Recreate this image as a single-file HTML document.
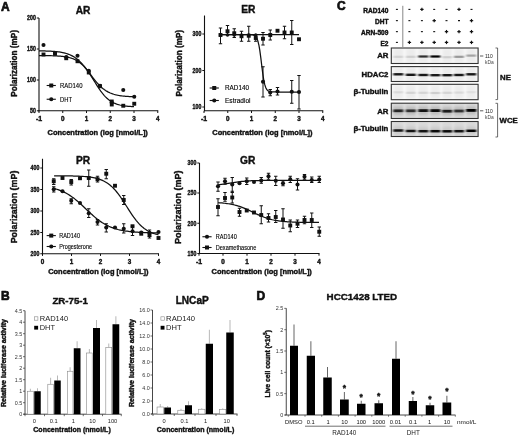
<!DOCTYPE html>
<html><head><meta charset="utf-8"><title>Figure</title>
<style>html,body{margin:0;padding:0;background:#fff}svg{display:block}text{font-family:"Liberation Sans",Arial,sans-serif}</style>
</head><body>
<svg width="520" height="436" viewBox="0 0 520 436">
<rect width="520" height="436" fill="#fff"/>
<text x="1.00" y="11.00" font-size="12" font-weight="bold" text-anchor="start" fill="#111" stroke="#111" stroke-width="0.7" stroke-linejoin="round" >A</text>
<text x="1.00" y="299.60" font-size="12" font-weight="bold" text-anchor="start" fill="#111" stroke="#111" stroke-width="0.7" stroke-linejoin="round" >B</text>
<text x="337.00" y="10.30" font-size="12" font-weight="bold" text-anchor="start" fill="#111" stroke="#111" stroke-width="0.7" stroke-linejoin="round" >C</text>
<text x="256.50" y="300.00" font-size="12" font-weight="bold" text-anchor="start" fill="#111" stroke="#111" stroke-width="0.7" stroke-linejoin="round" >D</text>
<line x1="39.00" y1="18.00" x2="39.00" y2="111.30" stroke="#111" stroke-width="1.1" />
<line x1="38.50" y1="110.80" x2="158.25" y2="110.80" stroke="#111" stroke-width="1.1" />
<line x1="39.00" y1="110.80" x2="39.00" y2="113.00" stroke="#111" stroke-width="1" />
<text x="39.00" y="121.10" font-size="6.3" font-weight="bold" text-anchor="middle" fill="#111" textLength="6.20" lengthAdjust="spacingAndGlyphs" stroke="#111" stroke-width="0.4" stroke-linejoin="round" >-1</text>
<line x1="62.75" y1="110.80" x2="62.75" y2="113.00" stroke="#111" stroke-width="1" />
<text x="62.75" y="121.10" font-size="6.3" font-weight="bold" text-anchor="middle" fill="#111" stroke="#111" stroke-width="0.4" stroke-linejoin="round" >0</text>
<line x1="86.50" y1="110.80" x2="86.50" y2="113.00" stroke="#111" stroke-width="1" />
<text x="86.50" y="121.10" font-size="6.3" font-weight="bold" text-anchor="middle" fill="#111" stroke="#111" stroke-width="0.4" stroke-linejoin="round" >1</text>
<line x1="110.25" y1="110.80" x2="110.25" y2="113.00" stroke="#111" stroke-width="1" />
<text x="110.25" y="121.10" font-size="6.3" font-weight="bold" text-anchor="middle" fill="#111" stroke="#111" stroke-width="0.4" stroke-linejoin="round" >2</text>
<line x1="134.00" y1="110.80" x2="134.00" y2="113.00" stroke="#111" stroke-width="1" />
<text x="134.00" y="121.10" font-size="6.3" font-weight="bold" text-anchor="middle" fill="#111" stroke="#111" stroke-width="0.4" stroke-linejoin="round" >3</text>
<line x1="157.75" y1="110.80" x2="157.75" y2="113.00" stroke="#111" stroke-width="1" />
<text x="157.75" y="121.10" font-size="6.3" font-weight="bold" text-anchor="middle" fill="#111" stroke="#111" stroke-width="0.4" stroke-linejoin="round" >4</text>
<line x1="36.80" y1="18.00" x2="39.00" y2="18.00" stroke="#111" stroke-width="1" />
<text x="35.80" y="20.40" font-size="6.8" font-weight="bold" text-anchor="end" fill="#111" textLength="8.70" lengthAdjust="spacingAndGlyphs" stroke="#111" stroke-width="0.4" stroke-linejoin="round" >200</text>
<line x1="36.80" y1="49.00" x2="39.00" y2="49.00" stroke="#111" stroke-width="1" />
<text x="35.80" y="51.40" font-size="6.8" font-weight="bold" text-anchor="end" fill="#111" textLength="8.70" lengthAdjust="spacingAndGlyphs" stroke="#111" stroke-width="0.4" stroke-linejoin="round" >150</text>
<line x1="36.80" y1="80.00" x2="39.00" y2="80.00" stroke="#111" stroke-width="1" />
<text x="35.80" y="82.40" font-size="6.8" font-weight="bold" text-anchor="end" fill="#111" textLength="8.70" lengthAdjust="spacingAndGlyphs" stroke="#111" stroke-width="0.4" stroke-linejoin="round" >100</text>
<line x1="36.80" y1="110.80" x2="39.00" y2="110.80" stroke="#111" stroke-width="1" />
<text x="35.80" y="113.20" font-size="6.8" font-weight="bold" text-anchor="end" fill="#111" textLength="5.80" lengthAdjust="spacingAndGlyphs" stroke="#111" stroke-width="0.4" stroke-linejoin="round" >50</text>
<text x="83.00" y="14.30" font-size="10.2" font-weight="bold" text-anchor="middle" fill="#111" stroke="#111" stroke-width="0.4" stroke-linejoin="round" >AR</text>
<text x="17.20" y="63.40" font-size="8.9" font-weight="bold" text-anchor="middle" fill="#111" textLength="66.50" lengthAdjust="spacingAndGlyphs" stroke="#111" stroke-width="0.4" stroke-linejoin="round" transform="rotate(-90 17.20 63.40)" >Polarization (mP)</text>
<text x="97.70" y="134.70" font-size="7.6" font-weight="bold" text-anchor="middle" fill="#111" textLength="100.30" lengthAdjust="spacingAndGlyphs" stroke="#111" stroke-width="0.4" stroke-linejoin="round" >Concentration (log [nmol/L])</text>
<polyline points="39.00,55.55 40.19,55.56 41.38,55.56 42.56,55.58 43.75,55.59 44.94,55.60 46.12,55.62 47.31,55.64 48.50,55.66 49.69,55.68 50.88,55.71 52.06,55.75 53.25,55.79 54.44,55.83 55.62,55.89 56.81,55.95 58.00,56.02 59.19,56.11 60.38,56.20 61.56,56.31 62.75,56.44 63.94,56.59 65.12,56.76 66.31,56.96 67.50,57.19 68.69,57.45 69.88,57.76 71.06,58.10 72.25,58.50 73.44,58.95 74.62,59.46 75.81,60.05 77.00,60.71 78.19,61.45 79.38,62.28 80.56,63.21 81.75,64.25 82.94,65.39 84.12,66.64 85.31,68.00 86.50,69.47 87.69,71.05 88.88,72.72 90.06,74.48 91.25,76.30 92.44,78.18 93.62,80.09 94.81,82.02 96.00,83.94 97.19,85.83 98.38,87.66 99.56,89.44 100.75,91.12 101.94,92.72 103.12,94.21 104.31,95.60 105.50,96.87 106.69,98.03 107.88,99.09 109.06,100.04 110.25,100.89 111.44,101.65 112.62,102.33 113.81,102.93 115.00,103.45 116.19,103.92 117.38,104.32 118.56,104.68 119.75,104.99 120.94,105.26 122.12,105.49 123.31,105.70 124.50,105.87 125.69,106.03 126.88,106.16 128.06,106.28 129.25,106.38 130.44,106.46 131.62,106.54 132.81,106.60 134.00,106.65" fill="none" stroke="#111" stroke-width="1.25"/>
<polyline points="39.00,50.87 40.19,50.89 41.38,50.91 42.56,50.93 43.75,50.96 44.94,50.99 46.12,51.03 47.31,51.07 48.50,51.11 49.69,51.17 50.88,51.23 52.06,51.30 53.25,51.38 54.44,51.47 55.62,51.58 56.81,51.70 58.00,51.83 59.19,51.99 60.38,52.17 61.56,52.37 62.75,52.60 63.94,52.86 65.12,53.16 66.31,53.49 67.50,53.87 68.69,54.30 69.88,54.78 71.06,55.32 72.25,55.92 73.44,56.59 74.62,57.33 75.81,58.15 77.00,59.05 78.19,60.04 79.38,61.10 80.56,62.26 81.75,63.49 82.94,64.80 84.12,66.19 85.31,67.64 86.50,69.15 87.69,70.70 88.88,72.28 90.06,73.88 91.25,75.47 92.44,77.05 93.62,78.60 94.81,80.11 96.00,81.56 97.19,82.95 98.38,84.26 99.56,85.49 100.75,86.65 101.94,87.71 103.12,88.70 104.31,89.60 105.50,90.42 106.69,91.16 107.88,91.83 109.06,92.43 110.25,92.97 111.44,93.45 112.62,93.88 113.81,94.26 115.00,94.59 116.19,94.89 117.38,95.15 118.56,95.38 119.75,95.58 120.94,95.76 122.12,95.92 123.31,96.05 124.50,96.17 125.69,96.28 126.88,96.37 128.06,96.45 129.25,96.52 130.44,96.58 131.62,96.64 132.81,96.68 134.00,96.72" fill="none" stroke="#111" stroke-width="1.25"/>
<rect x="41.55" y="52.55" width="3.90" height="3.90" fill="#111" />
<rect x="53.05" y="51.80" width="3.90" height="3.90" fill="#111" />
<rect x="64.30" y="56.30" width="3.90" height="3.90" fill="#111" />
<rect x="75.55" y="59.30" width="3.90" height="3.90" fill="#111" />
<rect x="86.80" y="70.55" width="3.90" height="3.90" fill="#111" />
<rect x="98.05" y="84.30" width="3.90" height="3.90" fill="#111" />
<rect x="109.80" y="102.55" width="3.90" height="3.90" fill="#111" />
<rect x="121.30" y="103.80" width="3.90" height="3.90" fill="#111" />
<rect x="132.30" y="101.80" width="3.90" height="3.90" fill="#111" />
<rect x="109.80" y="99.55" width="3.90" height="3.90" fill="#111" />
<circle cx="43.50" cy="45.00" r="2.05" fill="#111"/>
<circle cx="55.00" cy="53.00" r="2.05" fill="#111"/>
<circle cx="66.25" cy="57.00" r="2.05" fill="#111"/>
<circle cx="77.50" cy="55.75" r="2.05" fill="#111"/>
<circle cx="88.75" cy="70.75" r="2.05" fill="#111"/>
<circle cx="100.00" cy="85.75" r="2.05" fill="#111"/>
<circle cx="111.75" cy="102.50" r="2.05" fill="#111"/>
<circle cx="123.25" cy="90.00" r="2.05" fill="#111"/>
<circle cx="134.25" cy="96.75" r="2.05" fill="#111"/>
<line x1="46.65" y1="85.50" x2="55.85" y2="85.50" stroke="#111" stroke-width="1.1" />
<rect x="49.25" y="83.50" width="4.00" height="4.00" fill="#111" />
<text x="60.00" y="87.90" font-size="6.8"  text-anchor="start" fill="#000" textLength="22.50" lengthAdjust="spacingAndGlyphs" stroke="#000" stroke-width="0.12">RAD140</text>
<line x1="46.65" y1="99.25" x2="55.85" y2="99.25" stroke="#111" stroke-width="1.1" />
<circle cx="51.25" cy="99.25" r="2.05" fill="#111"/>
<text x="60.00" y="101.65" font-size="6.8"  text-anchor="start" fill="#000" textLength="12.00" lengthAdjust="spacingAndGlyphs" stroke="#000" stroke-width="0.12">DHT</text>
<line x1="204.50" y1="15.50" x2="204.50" y2="111.30" stroke="#111" stroke-width="1.1" />
<line x1="204.00" y1="110.80" x2="323.25" y2="110.80" stroke="#111" stroke-width="1.1" />
<line x1="204.00" y1="110.80" x2="204.00" y2="113.00" stroke="#111" stroke-width="1" />
<text x="204.00" y="121.10" font-size="6.3" font-weight="bold" text-anchor="middle" fill="#111" textLength="6.20" lengthAdjust="spacingAndGlyphs" stroke="#111" stroke-width="0.4" stroke-linejoin="round" >-1</text>
<line x1="227.75" y1="110.80" x2="227.75" y2="113.00" stroke="#111" stroke-width="1" />
<text x="227.75" y="121.10" font-size="6.3" font-weight="bold" text-anchor="middle" fill="#111" stroke="#111" stroke-width="0.4" stroke-linejoin="round" >0</text>
<line x1="251.50" y1="110.80" x2="251.50" y2="113.00" stroke="#111" stroke-width="1" />
<text x="251.50" y="121.10" font-size="6.3" font-weight="bold" text-anchor="middle" fill="#111" stroke="#111" stroke-width="0.4" stroke-linejoin="round" >1</text>
<line x1="275.25" y1="110.80" x2="275.25" y2="113.00" stroke="#111" stroke-width="1" />
<text x="275.25" y="121.10" font-size="6.3" font-weight="bold" text-anchor="middle" fill="#111" stroke="#111" stroke-width="0.4" stroke-linejoin="round" >2</text>
<line x1="299.00" y1="110.80" x2="299.00" y2="113.00" stroke="#111" stroke-width="1" />
<text x="299.00" y="121.10" font-size="6.3" font-weight="bold" text-anchor="middle" fill="#111" stroke="#111" stroke-width="0.4" stroke-linejoin="round" >3</text>
<line x1="322.75" y1="110.80" x2="322.75" y2="113.00" stroke="#111" stroke-width="1" />
<text x="322.75" y="121.10" font-size="6.3" font-weight="bold" text-anchor="middle" fill="#111" stroke="#111" stroke-width="0.4" stroke-linejoin="round" >4</text>
<line x1="202.30" y1="34.00" x2="204.50" y2="34.00" stroke="#111" stroke-width="1" />
<text x="201.30" y="36.40" font-size="6.8" font-weight="bold" text-anchor="end" fill="#111" textLength="8.70" lengthAdjust="spacingAndGlyphs" stroke="#111" stroke-width="0.4" stroke-linejoin="round" >300</text>
<line x1="202.30" y1="70.50" x2="204.50" y2="70.50" stroke="#111" stroke-width="1" />
<text x="201.30" y="72.90" font-size="6.8" font-weight="bold" text-anchor="end" fill="#111" textLength="8.70" lengthAdjust="spacingAndGlyphs" stroke="#111" stroke-width="0.4" stroke-linejoin="round" >200</text>
<line x1="202.30" y1="107.00" x2="204.50" y2="107.00" stroke="#111" stroke-width="1" />
<text x="201.30" y="109.40" font-size="6.8" font-weight="bold" text-anchor="end" fill="#111" textLength="8.70" lengthAdjust="spacingAndGlyphs" stroke="#111" stroke-width="0.4" stroke-linejoin="round" >100</text>
<text x="248.40" y="13.20" font-size="10.2" font-weight="bold" text-anchor="middle" fill="#111" stroke="#111" stroke-width="0.4" stroke-linejoin="round" >ER</text>
<text x="182.20" y="63.20" font-size="8.9" font-weight="bold" text-anchor="middle" fill="#111" textLength="66.50" lengthAdjust="spacingAndGlyphs" stroke="#111" stroke-width="0.4" stroke-linejoin="round" transform="rotate(-90 182.20 63.20)" >Polarization (mP)</text>
<text x="262.40" y="134.70" font-size="7.6" font-weight="bold" text-anchor="middle" fill="#111" textLength="100.30" lengthAdjust="spacingAndGlyphs" stroke="#111" stroke-width="0.4" stroke-linejoin="round" >Concentration (log [nmol/L])</text>
<line x1="220.50" y1="34.60" x2="299.00" y2="34.60" stroke="#111" stroke-width="1.25" />
<polyline points="220.62,34.60 221.60,34.60 222.58,34.60 223.56,34.60 224.54,34.60 225.52,34.60 226.50,34.60 227.48,34.60 228.46,34.60 229.44,34.60 230.42,34.60 231.40,34.60 232.38,34.60 233.36,34.60 234.34,34.60 235.32,34.60 236.30,34.60 237.28,34.60 238.26,34.60 239.24,34.60 240.22,34.60 241.20,34.60 242.18,34.60 243.16,34.60 244.14,34.60 245.12,34.60 246.10,34.61 247.08,34.61 248.06,34.62 249.04,34.64 250.02,34.67 251.00,34.73 251.97,34.83 252.95,35.00 253.93,35.31 254.91,35.84 255.89,36.75 256.87,38.29 257.85,40.82 258.83,44.76 259.81,50.41 260.79,57.67 261.77,65.77 262.75,73.49 263.73,79.83 264.71,84.42 265.69,87.45 266.67,89.33 267.65,90.46 268.63,91.12 269.61,91.50 270.59,91.72 271.57,91.84 272.55,91.91 273.53,91.95 274.51,91.97 275.49,91.98 276.47,91.99 277.45,91.99 278.43,92.00 279.41,92.00 280.39,92.00 281.37,92.00 282.35,92.00 283.32,92.00 284.30,92.00 285.28,92.00 286.26,92.00 287.24,92.00 288.22,92.00 289.20,92.00 290.18,92.00 291.16,92.00 292.14,92.00 293.12,92.00 294.10,92.00 295.08,92.00 296.06,92.00 297.04,92.00 298.02,92.00 299.00,92.00" fill="none" stroke="#111" stroke-width="1.25"/>
<line x1="220.50" y1="28.00" x2="220.50" y2="43.75" stroke="#111" stroke-width="1.0" />
<line x1="218.80" y1="28.00" x2="222.20" y2="28.00" stroke="#111" stroke-width="1.0" />
<line x1="218.80" y1="43.75" x2="222.20" y2="43.75" stroke="#111" stroke-width="1.0" />
<rect x="218.55" y="33.05" width="3.90" height="3.90" fill="#111" />
<line x1="227.50" y1="25.50" x2="227.50" y2="35.00" stroke="#111" stroke-width="1.0" />
<line x1="225.80" y1="25.50" x2="229.20" y2="25.50" stroke="#111" stroke-width="1.0" />
<line x1="225.80" y1="35.00" x2="229.20" y2="35.00" stroke="#111" stroke-width="1.0" />
<rect x="225.55" y="29.30" width="3.90" height="3.90" fill="#111" />
<line x1="234.25" y1="28.75" x2="234.25" y2="37.50" stroke="#111" stroke-width="1.0" />
<line x1="232.55" y1="28.75" x2="235.95" y2="28.75" stroke="#111" stroke-width="1.0" />
<line x1="232.55" y1="37.50" x2="235.95" y2="37.50" stroke="#111" stroke-width="1.0" />
<rect x="232.30" y="31.30" width="3.90" height="3.90" fill="#111" />
<line x1="241.50" y1="31.25" x2="241.50" y2="41.25" stroke="#111" stroke-width="1.0" />
<line x1="239.80" y1="31.25" x2="243.20" y2="31.25" stroke="#111" stroke-width="1.0" />
<line x1="239.80" y1="41.25" x2="243.20" y2="41.25" stroke="#111" stroke-width="1.0" />
<rect x="239.55" y="34.30" width="3.90" height="3.90" fill="#111" />
<line x1="248.75" y1="26.25" x2="248.75" y2="41.25" stroke="#111" stroke-width="1.0" />
<line x1="247.05" y1="26.25" x2="250.45" y2="26.25" stroke="#111" stroke-width="1.0" />
<line x1="247.05" y1="41.25" x2="250.45" y2="41.25" stroke="#111" stroke-width="1.0" />
<rect x="246.80" y="33.80" width="3.90" height="3.90" fill="#111" />
<line x1="255.75" y1="35.00" x2="255.75" y2="41.25" stroke="#111" stroke-width="1.0" />
<line x1="254.05" y1="35.00" x2="257.45" y2="35.00" stroke="#111" stroke-width="1.0" />
<line x1="254.05" y1="41.25" x2="257.45" y2="41.25" stroke="#111" stroke-width="1.0" />
<rect x="253.80" y="36.05" width="3.90" height="3.90" fill="#111" />
<line x1="263.00" y1="32.50" x2="263.00" y2="45.00" stroke="#111" stroke-width="1.0" />
<line x1="261.30" y1="32.50" x2="264.70" y2="32.50" stroke="#111" stroke-width="1.0" />
<line x1="261.30" y1="45.00" x2="264.70" y2="45.00" stroke="#111" stroke-width="1.0" />
<rect x="261.05" y="36.80" width="3.90" height="3.90" fill="#111" />
<line x1="270.25" y1="30.00" x2="270.25" y2="40.00" stroke="#111" stroke-width="1.0" />
<line x1="268.55" y1="30.00" x2="271.95" y2="30.00" stroke="#111" stroke-width="1.0" />
<line x1="268.55" y1="40.00" x2="271.95" y2="40.00" stroke="#111" stroke-width="1.0" />
<rect x="268.30" y="33.05" width="3.90" height="3.90" fill="#111" />
<rect x="275.55" y="28.80" width="3.90" height="3.90" fill="#111" />
<line x1="284.50" y1="26.25" x2="284.50" y2="38.75" stroke="#111" stroke-width="1.0" />
<line x1="282.80" y1="26.25" x2="286.20" y2="26.25" stroke="#111" stroke-width="1.0" />
<line x1="282.80" y1="38.75" x2="286.20" y2="38.75" stroke="#111" stroke-width="1.0" />
<rect x="282.55" y="30.55" width="3.90" height="3.90" fill="#111" />
<line x1="291.75" y1="20.50" x2="291.75" y2="44.50" stroke="#111" stroke-width="1.0" />
<line x1="290.05" y1="20.50" x2="293.45" y2="20.50" stroke="#111" stroke-width="1.0" />
<line x1="290.05" y1="44.50" x2="293.45" y2="44.50" stroke="#111" stroke-width="1.0" />
<rect x="289.80" y="30.55" width="3.90" height="3.90" fill="#111" />
<rect x="297.05" y="37.30" width="3.90" height="3.90" fill="#111" />
<circle cx="220.50" cy="35.00" r="1.7" fill="#111"/>
<circle cx="227.50" cy="35.00" r="1.7" fill="#111"/>
<circle cx="234.25" cy="35.00" r="1.7" fill="#111"/>
<circle cx="241.50" cy="35.00" r="1.7" fill="#111"/>
<circle cx="248.75" cy="35.00" r="1.7" fill="#111"/>
<circle cx="255.75" cy="35.00" r="1.7" fill="#111"/>
<line x1="263.00" y1="66.75" x2="263.00" y2="97.00" stroke="#111" stroke-width="1.0" />
<line x1="261.30" y1="66.75" x2="264.70" y2="66.75" stroke="#111" stroke-width="1.0" />
<line x1="261.30" y1="97.00" x2="264.70" y2="97.00" stroke="#111" stroke-width="1.0" />
<circle cx="263.00" cy="81.75" r="2.05" fill="#111"/>
<line x1="270.25" y1="89.50" x2="270.25" y2="95.75" stroke="#111" stroke-width="1.0" />
<line x1="268.55" y1="89.50" x2="271.95" y2="89.50" stroke="#111" stroke-width="1.0" />
<line x1="268.55" y1="95.75" x2="271.95" y2="95.75" stroke="#111" stroke-width="1.0" />
<circle cx="270.25" cy="92.50" r="2.05" fill="#111"/>
<line x1="277.50" y1="87.50" x2="277.50" y2="95.00" stroke="#111" stroke-width="1.0" />
<line x1="275.80" y1="87.50" x2="279.20" y2="87.50" stroke="#111" stroke-width="1.0" />
<line x1="275.80" y1="95.00" x2="279.20" y2="95.00" stroke="#111" stroke-width="1.0" />
<circle cx="277.50" cy="91.50" r="2.05" fill="#111"/>
<line x1="291.75" y1="80.50" x2="291.75" y2="103.25" stroke="#111" stroke-width="1.0" />
<line x1="290.05" y1="80.50" x2="293.45" y2="80.50" stroke="#111" stroke-width="1.0" />
<line x1="290.05" y1="103.25" x2="293.45" y2="103.25" stroke="#111" stroke-width="1.0" />
<circle cx="291.75" cy="91.75" r="2.05" fill="#111"/>
<line x1="299.00" y1="75.50" x2="299.00" y2="109.00" stroke="#111" stroke-width="1.0" />
<line x1="297.30" y1="75.50" x2="300.70" y2="75.50" stroke="#111" stroke-width="1.0" />
<line x1="297.30" y1="109.00" x2="300.70" y2="109.00" stroke="#111" stroke-width="1.0" />
<circle cx="299.00" cy="92.00" r="2.05" fill="#111"/>
<line x1="209.65" y1="88.00" x2="218.85" y2="88.00" stroke="#111" stroke-width="1.1" />
<rect x="212.25" y="86.00" width="4.00" height="4.00" fill="#111" />
<text x="225.00" y="90.40" font-size="6.8"  text-anchor="start" fill="#000" textLength="24.00" lengthAdjust="spacingAndGlyphs" stroke="#000" stroke-width="0.12">RAD140</text>
<line x1="209.65" y1="100.50" x2="218.85" y2="100.50" stroke="#111" stroke-width="1.1" />
<circle cx="214.25" cy="100.50" r="2.05" fill="#111"/>
<text x="225.00" y="102.90" font-size="6.8"  text-anchor="start" fill="#000" textLength="25.50" lengthAdjust="spacingAndGlyphs" stroke="#000" stroke-width="0.12">Estradiol</text>
<line x1="42.50" y1="158.75" x2="42.50" y2="254.25" stroke="#111" stroke-width="1.1" />
<line x1="42.00" y1="253.75" x2="159.00" y2="253.75" stroke="#111" stroke-width="1.1" />
<line x1="42.50" y1="253.75" x2="42.50" y2="255.95" stroke="#111" stroke-width="1" />
<text x="42.50" y="264.05" font-size="6.3" font-weight="bold" text-anchor="middle" fill="#111" stroke="#111" stroke-width="0.4" stroke-linejoin="round" >0</text>
<line x1="71.50" y1="253.75" x2="71.50" y2="255.95" stroke="#111" stroke-width="1" />
<text x="71.50" y="264.05" font-size="6.3" font-weight="bold" text-anchor="middle" fill="#111" stroke="#111" stroke-width="0.4" stroke-linejoin="round" >1</text>
<line x1="100.50" y1="253.75" x2="100.50" y2="255.95" stroke="#111" stroke-width="1" />
<text x="100.50" y="264.05" font-size="6.3" font-weight="bold" text-anchor="middle" fill="#111" stroke="#111" stroke-width="0.4" stroke-linejoin="round" >2</text>
<line x1="129.50" y1="253.75" x2="129.50" y2="255.95" stroke="#111" stroke-width="1" />
<text x="129.50" y="264.05" font-size="6.3" font-weight="bold" text-anchor="middle" fill="#111" stroke="#111" stroke-width="0.4" stroke-linejoin="round" >3</text>
<line x1="158.50" y1="253.75" x2="158.50" y2="255.95" stroke="#111" stroke-width="1" />
<text x="158.50" y="264.05" font-size="6.3" font-weight="bold" text-anchor="middle" fill="#111" stroke="#111" stroke-width="0.4" stroke-linejoin="round" >4</text>
<line x1="40.30" y1="168.00" x2="42.50" y2="168.00" stroke="#111" stroke-width="1" />
<text x="39.30" y="170.40" font-size="6.8" font-weight="bold" text-anchor="end" fill="#111" textLength="8.70" lengthAdjust="spacingAndGlyphs" stroke="#111" stroke-width="0.4" stroke-linejoin="round" >400</text>
<line x1="40.30" y1="189.50" x2="42.50" y2="189.50" stroke="#111" stroke-width="1" />
<text x="39.30" y="191.90" font-size="6.8" font-weight="bold" text-anchor="end" fill="#111" textLength="8.70" lengthAdjust="spacingAndGlyphs" stroke="#111" stroke-width="0.4" stroke-linejoin="round" >350</text>
<line x1="40.30" y1="211.00" x2="42.50" y2="211.00" stroke="#111" stroke-width="1" />
<text x="39.30" y="213.40" font-size="6.8" font-weight="bold" text-anchor="end" fill="#111" textLength="8.70" lengthAdjust="spacingAndGlyphs" stroke="#111" stroke-width="0.4" stroke-linejoin="round" >300</text>
<line x1="40.30" y1="232.50" x2="42.50" y2="232.50" stroke="#111" stroke-width="1" />
<text x="39.30" y="234.90" font-size="6.8" font-weight="bold" text-anchor="end" fill="#111" textLength="8.70" lengthAdjust="spacingAndGlyphs" stroke="#111" stroke-width="0.4" stroke-linejoin="round" >250</text>
<line x1="40.30" y1="253.75" x2="42.50" y2="253.75" stroke="#111" stroke-width="1" />
<text x="39.30" y="256.15" font-size="6.8" font-weight="bold" text-anchor="end" fill="#111" textLength="8.70" lengthAdjust="spacingAndGlyphs" stroke="#111" stroke-width="0.4" stroke-linejoin="round" >200</text>
<text x="83.00" y="164.00" font-size="10.2" font-weight="bold" text-anchor="middle" fill="#111" stroke="#111" stroke-width="0.4" stroke-linejoin="round" >PR</text>
<text x="17.00" y="207.00" font-size="8.9" font-weight="bold" text-anchor="middle" fill="#111" textLength="72.70" lengthAdjust="spacingAndGlyphs" stroke="#111" stroke-width="0.4" stroke-linejoin="round" transform="rotate(-90 17.00 207.00)" >Polarization (mP)</text>
<text x="98.30" y="273.60" font-size="7.6" font-weight="bold" text-anchor="middle" fill="#111" textLength="100.30" lengthAdjust="spacingAndGlyphs" stroke="#111" stroke-width="0.4" stroke-linejoin="round" >Concentration (log [nmol/L])</text>
<polyline points="54.10,175.78 55.41,175.79 56.71,175.80 58.02,175.80 59.32,175.81 60.62,175.82 61.93,175.83 63.23,175.84 64.54,175.85 65.84,175.87 67.15,175.88 68.45,175.90 69.76,175.92 71.06,175.95 72.37,175.98 73.68,176.01 74.98,176.05 76.28,176.09 77.59,176.14 78.90,176.19 80.20,176.26 81.50,176.33 82.81,176.41 84.12,176.50 85.42,176.61 86.72,176.73 88.03,176.87 89.34,177.03 90.64,177.21 91.94,177.42 93.25,177.65 94.56,177.91 95.86,178.21 97.16,178.55 98.47,178.93 99.78,179.37 101.08,179.85 102.39,180.40 103.69,181.01 105.00,181.70 106.30,182.46 107.61,183.31 108.91,184.25 110.22,185.28 111.52,186.42 112.82,187.66 114.13,189.00 115.44,190.45 116.74,192.01 118.05,193.67 119.35,195.42 120.66,197.26 121.96,199.18 123.27,201.16 124.57,203.18 125.88,205.23 127.18,207.29 128.49,209.34 129.79,211.37 131.09,213.35 132.40,215.28 133.70,217.13 135.01,218.89 136.31,220.56 137.62,222.13 138.93,223.59 140.23,224.95 141.53,226.20 142.84,227.35 144.14,228.39 145.45,229.34 146.75,230.20 148.06,230.97 149.37,231.67 150.67,232.29 151.97,232.84 153.28,233.33 154.58,233.77 155.89,234.16 157.20,234.50 158.50,234.81" fill="none" stroke="#111" stroke-width="1.25"/>
<polyline points="54.10,188.53 55.41,188.89 56.71,189.27 58.02,189.69 59.32,190.15 60.62,190.65 61.93,191.18 63.23,191.76 64.54,192.39 65.84,193.06 67.15,193.78 68.45,194.55 69.76,195.37 71.06,196.23 72.37,197.15 73.68,198.11 74.98,199.12 76.28,200.18 77.59,201.27 78.90,202.40 80.20,203.57 81.50,204.76 82.81,205.98 84.12,207.21 85.42,208.45 86.72,209.69 88.03,210.93 89.34,212.16 90.64,213.37 91.94,214.56 93.25,215.72 94.56,216.85 95.86,217.94 97.16,218.99 98.47,220.00 99.78,220.96 101.08,221.87 102.39,222.73 103.69,223.54 105.00,224.30 106.30,225.02 107.61,225.68 108.91,226.30 110.22,226.88 111.52,227.41 112.82,227.90 114.13,228.35 115.44,228.77 116.74,229.15 118.05,229.51 119.35,229.83 120.66,230.12 121.96,230.39 123.27,230.63 124.57,230.86 125.88,231.06 127.18,231.24 128.49,231.41 129.79,231.56 131.09,231.70 132.40,231.82 133.70,231.94 135.01,232.04 136.31,232.13 137.62,232.22 138.93,232.29 140.23,232.36 141.53,232.42 142.84,232.48 144.14,232.53 145.45,232.58 146.75,232.62 148.06,232.65 149.37,232.69 150.67,232.72 151.97,232.75 153.28,232.77 154.58,232.79 155.89,232.81 157.20,232.83 158.50,232.85" fill="none" stroke="#111" stroke-width="1.25"/>
<line x1="53.75" y1="178.75" x2="53.75" y2="184.50" stroke="#111" stroke-width="1.0" />
<line x1="52.05" y1="178.75" x2="55.45" y2="178.75" stroke="#111" stroke-width="1.0" />
<line x1="52.05" y1="184.50" x2="55.45" y2="184.50" stroke="#111" stroke-width="1.0" />
<rect x="51.80" y="179.30" width="3.90" height="3.90" fill="#111" />
<rect x="60.55" y="176.05" width="3.90" height="3.90" fill="#111" />
<line x1="71.25" y1="179.50" x2="71.25" y2="185.00" stroke="#111" stroke-width="1.0" />
<line x1="69.55" y1="179.50" x2="72.95" y2="179.50" stroke="#111" stroke-width="1.0" />
<line x1="69.55" y1="185.00" x2="72.95" y2="185.00" stroke="#111" stroke-width="1.0" />
<rect x="69.30" y="180.05" width="3.90" height="3.90" fill="#111" />
<rect x="78.05" y="176.30" width="3.90" height="3.90" fill="#111" />
<line x1="88.75" y1="170.00" x2="88.75" y2="186.25" stroke="#111" stroke-width="1.0" />
<line x1="87.05" y1="170.00" x2="90.45" y2="170.00" stroke="#111" stroke-width="1.0" />
<line x1="87.05" y1="186.25" x2="90.45" y2="186.25" stroke="#111" stroke-width="1.0" />
<rect x="86.80" y="176.05" width="3.90" height="3.90" fill="#111" />
<line x1="97.50" y1="176.25" x2="97.50" y2="182.00" stroke="#111" stroke-width="1.0" />
<line x1="95.80" y1="176.25" x2="99.20" y2="176.25" stroke="#111" stroke-width="1.0" />
<line x1="95.80" y1="182.00" x2="99.20" y2="182.00" stroke="#111" stroke-width="1.0" />
<rect x="95.55" y="177.30" width="3.90" height="3.90" fill="#111" />
<line x1="106.25" y1="169.50" x2="106.25" y2="178.75" stroke="#111" stroke-width="1.0" />
<line x1="104.55" y1="169.50" x2="107.95" y2="169.50" stroke="#111" stroke-width="1.0" />
<line x1="104.55" y1="178.75" x2="107.95" y2="178.75" stroke="#111" stroke-width="1.0" />
<rect x="104.30" y="171.80" width="3.90" height="3.90" fill="#111" />
<rect x="113.05" y="183.80" width="3.90" height="3.90" fill="#111" />
<line x1="123.75" y1="195.50" x2="123.75" y2="204.50" stroke="#111" stroke-width="1.0" />
<line x1="122.05" y1="195.50" x2="125.45" y2="195.50" stroke="#111" stroke-width="1.0" />
<line x1="122.05" y1="204.50" x2="125.45" y2="204.50" stroke="#111" stroke-width="1.0" />
<rect x="121.80" y="198.05" width="3.90" height="3.90" fill="#111" />
<rect x="130.55" y="224.30" width="3.90" height="3.90" fill="#111" />
<rect x="139.30" y="231.80" width="3.90" height="3.90" fill="#111" />
<line x1="149.50" y1="232.00" x2="149.50" y2="238.00" stroke="#111" stroke-width="1.0" />
<line x1="147.80" y1="232.00" x2="151.20" y2="232.00" stroke="#111" stroke-width="1.0" />
<line x1="147.80" y1="238.00" x2="151.20" y2="238.00" stroke="#111" stroke-width="1.0" />
<rect x="147.55" y="233.05" width="3.90" height="3.90" fill="#111" />
<rect x="156.55" y="236.05" width="3.90" height="3.90" fill="#111" />
<line x1="53.75" y1="186.75" x2="53.75" y2="192.00" stroke="#111" stroke-width="1.0" />
<line x1="52.05" y1="186.75" x2="55.45" y2="186.75" stroke="#111" stroke-width="1.0" />
<line x1="52.05" y1="192.00" x2="55.45" y2="192.00" stroke="#111" stroke-width="1.0" />
<circle cx="53.75" cy="189.25" r="2.05" fill="#111"/>
<circle cx="62.50" cy="191.25" r="2.05" fill="#111"/>
<line x1="71.25" y1="198.75" x2="71.25" y2="203.75" stroke="#111" stroke-width="1.0" />
<line x1="69.55" y1="198.75" x2="72.95" y2="198.75" stroke="#111" stroke-width="1.0" />
<line x1="69.55" y1="203.75" x2="72.95" y2="203.75" stroke="#111" stroke-width="1.0" />
<circle cx="71.25" cy="200.75" r="2.05" fill="#111"/>
<circle cx="80.00" cy="203.00" r="2.05" fill="#111"/>
<line x1="88.75" y1="208.75" x2="88.75" y2="217.50" stroke="#111" stroke-width="1.0" />
<line x1="87.05" y1="208.75" x2="90.45" y2="208.75" stroke="#111" stroke-width="1.0" />
<line x1="87.05" y1="217.50" x2="90.45" y2="217.50" stroke="#111" stroke-width="1.0" />
<circle cx="88.75" cy="213.25" r="2.05" fill="#111"/>
<line x1="97.50" y1="219.50" x2="97.50" y2="225.00" stroke="#111" stroke-width="1.0" />
<line x1="95.80" y1="219.50" x2="99.20" y2="219.50" stroke="#111" stroke-width="1.0" />
<line x1="95.80" y1="225.00" x2="99.20" y2="225.00" stroke="#111" stroke-width="1.0" />
<circle cx="97.50" cy="222.00" r="2.05" fill="#111"/>
<line x1="106.25" y1="223.75" x2="106.25" y2="232.00" stroke="#111" stroke-width="1.0" />
<line x1="104.55" y1="223.75" x2="107.95" y2="223.75" stroke="#111" stroke-width="1.0" />
<line x1="104.55" y1="232.00" x2="107.95" y2="232.00" stroke="#111" stroke-width="1.0" />
<circle cx="106.25" cy="227.50" r="2.05" fill="#111"/>
<circle cx="115.00" cy="227.50" r="2.05" fill="#111"/>
<line x1="123.75" y1="223.75" x2="123.75" y2="233.00" stroke="#111" stroke-width="1.0" />
<line x1="122.05" y1="223.75" x2="125.45" y2="223.75" stroke="#111" stroke-width="1.0" />
<line x1="122.05" y1="233.00" x2="125.45" y2="233.00" stroke="#111" stroke-width="1.0" />
<circle cx="123.75" cy="228.75" r="2.05" fill="#111"/>
<line x1="132.50" y1="226.25" x2="132.50" y2="235.50" stroke="#111" stroke-width="1.0" />
<line x1="130.80" y1="226.25" x2="134.20" y2="226.25" stroke="#111" stroke-width="1.0" />
<line x1="130.80" y1="235.50" x2="134.20" y2="235.50" stroke="#111" stroke-width="1.0" />
<circle cx="132.50" cy="231.25" r="2.05" fill="#111"/>
<circle cx="141.25" cy="232.50" r="2.05" fill="#111"/>
<line x1="149.50" y1="230.00" x2="149.50" y2="236.50" stroke="#111" stroke-width="1.0" />
<line x1="147.80" y1="230.00" x2="151.20" y2="230.00" stroke="#111" stroke-width="1.0" />
<line x1="147.80" y1="236.50" x2="151.20" y2="236.50" stroke="#111" stroke-width="1.0" />
<circle cx="149.50" cy="233.00" r="2.05" fill="#111"/>
<circle cx="158.50" cy="232.00" r="2.05" fill="#111"/>
<line x1="46.65" y1="235.60" x2="55.85" y2="235.60" stroke="#111" stroke-width="1.1" />
<rect x="49.25" y="233.60" width="4.00" height="4.00" fill="#111" />
<text x="59.25" y="238.00" font-size="6.8"  text-anchor="start" fill="#000" textLength="20.70" lengthAdjust="spacingAndGlyphs" stroke="#000" stroke-width="0.12">RAD140</text>
<line x1="46.65" y1="246.50" x2="55.85" y2="246.50" stroke="#111" stroke-width="1.1" />
<circle cx="51.25" cy="246.50" r="2.05" fill="#111"/>
<text x="59.25" y="248.90" font-size="6.8"  text-anchor="start" fill="#000" textLength="32.70" lengthAdjust="spacingAndGlyphs" stroke="#000" stroke-width="0.12">Progesterone</text>
<line x1="199.50" y1="163.00" x2="199.50" y2="254.00" stroke="#111" stroke-width="1.1" />
<line x1="199.00" y1="253.50" x2="319.50" y2="253.50" stroke="#111" stroke-width="1.1" />
<line x1="199.00" y1="253.50" x2="199.00" y2="255.70" stroke="#111" stroke-width="1" />
<text x="199.00" y="263.80" font-size="6.3" font-weight="bold" text-anchor="middle" fill="#111" textLength="6.20" lengthAdjust="spacingAndGlyphs" stroke="#111" stroke-width="0.4" stroke-linejoin="round" >-1</text>
<line x1="223.00" y1="253.50" x2="223.00" y2="255.70" stroke="#111" stroke-width="1" />
<text x="223.00" y="263.80" font-size="6.3" font-weight="bold" text-anchor="middle" fill="#111" stroke="#111" stroke-width="0.4" stroke-linejoin="round" >0</text>
<line x1="247.00" y1="253.50" x2="247.00" y2="255.70" stroke="#111" stroke-width="1" />
<text x="247.00" y="263.80" font-size="6.3" font-weight="bold" text-anchor="middle" fill="#111" stroke="#111" stroke-width="0.4" stroke-linejoin="round" >1</text>
<line x1="271.00" y1="253.50" x2="271.00" y2="255.70" stroke="#111" stroke-width="1" />
<text x="271.00" y="263.80" font-size="6.3" font-weight="bold" text-anchor="middle" fill="#111" stroke="#111" stroke-width="0.4" stroke-linejoin="round" >2</text>
<line x1="295.00" y1="253.50" x2="295.00" y2="255.70" stroke="#111" stroke-width="1" />
<text x="295.00" y="263.80" font-size="6.3" font-weight="bold" text-anchor="middle" fill="#111" stroke="#111" stroke-width="0.4" stroke-linejoin="round" >3</text>
<line x1="319.00" y1="253.50" x2="319.00" y2="255.70" stroke="#111" stroke-width="1" />
<text x="319.00" y="263.80" font-size="6.3" font-weight="bold" text-anchor="middle" fill="#111" stroke="#111" stroke-width="0.4" stroke-linejoin="round" >4</text>
<line x1="197.30" y1="163.00" x2="199.50" y2="163.00" stroke="#111" stroke-width="1" />
<text x="196.30" y="165.40" font-size="6.8" font-weight="bold" text-anchor="end" fill="#111" textLength="8.70" lengthAdjust="spacingAndGlyphs" stroke="#111" stroke-width="0.4" stroke-linejoin="round" >300</text>
<line x1="197.30" y1="193.00" x2="199.50" y2="193.00" stroke="#111" stroke-width="1" />
<text x="196.30" y="195.40" font-size="6.8" font-weight="bold" text-anchor="end" fill="#111" textLength="8.70" lengthAdjust="spacingAndGlyphs" stroke="#111" stroke-width="0.4" stroke-linejoin="round" >250</text>
<line x1="197.30" y1="223.25" x2="199.50" y2="223.25" stroke="#111" stroke-width="1" />
<text x="196.30" y="225.65" font-size="6.8" font-weight="bold" text-anchor="end" fill="#111" textLength="8.70" lengthAdjust="spacingAndGlyphs" stroke="#111" stroke-width="0.4" stroke-linejoin="round" >200</text>
<line x1="197.30" y1="253.50" x2="199.50" y2="253.50" stroke="#111" stroke-width="1" />
<text x="196.30" y="255.90" font-size="6.8" font-weight="bold" text-anchor="end" fill="#111" textLength="8.70" lengthAdjust="spacingAndGlyphs" stroke="#111" stroke-width="0.4" stroke-linejoin="round" >150</text>
<text x="247.70" y="164.10" font-size="10.2" font-weight="bold" text-anchor="middle" fill="#111" stroke="#111" stroke-width="0.4" stroke-linejoin="round" >GR</text>
<text x="181.00" y="207.30" font-size="8.9" font-weight="bold" text-anchor="middle" fill="#111" textLength="73.40" lengthAdjust="spacingAndGlyphs" stroke="#111" stroke-width="0.4" stroke-linejoin="round" transform="rotate(-90 181.00 207.30)" >Polarization (mP)</text>
<text x="261.70" y="273.60" font-size="7.6" font-weight="bold" text-anchor="middle" fill="#111" textLength="100.30" lengthAdjust="spacingAndGlyphs" stroke="#111" stroke-width="0.4" stroke-linejoin="round" >Concentration (log [nmol/L])</text>
<polyline points="218.20,184.78 219.88,184.59 221.56,184.39 223.24,184.17 224.92,183.93 226.60,183.67 228.28,183.41 229.96,183.14 231.64,182.87 233.32,182.60 235.00,182.35 236.68,182.10 238.36,181.87 240.04,181.66 241.72,181.47 243.40,181.31 245.08,181.16 246.76,181.02 248.44,180.91 250.12,180.81 251.80,180.73 253.48,180.66 255.16,180.60 256.84,180.55 258.52,180.51 260.20,180.47 261.88,180.44 263.56,180.42 265.24,180.40 266.92,180.38 268.60,180.37 270.28,180.35 271.96,180.35 273.64,180.34 275.32,180.33 277.00,180.33 278.68,180.32 280.36,180.32 282.04,180.31 283.72,180.31 285.40,180.31 287.08,180.31 288.76,180.31 290.44,180.31 292.12,180.30 293.80,180.30 295.48,180.30 297.16,180.30 298.84,180.30 300.52,180.30 302.20,180.30 303.88,180.30 305.56,180.30 307.24,180.30 308.92,180.30 310.60,180.30 312.28,180.30 313.96,180.30 315.64,180.30 317.32,180.30 319.00,180.30" fill="none" stroke="#111" stroke-width="1.25"/>
<polyline points="218.20,202.70 219.46,202.79 220.72,202.89 221.98,202.99 223.24,203.12 224.50,203.25 225.76,203.40 227.02,203.57 228.28,203.75 229.54,203.95 230.80,204.18 232.06,204.42 233.32,204.69 234.58,204.99 235.84,205.31 237.10,205.66 238.36,206.04 239.62,206.45 240.88,206.88 242.14,207.35 243.40,207.84 244.66,208.35 245.92,208.90 247.18,209.46 248.44,210.04 249.70,210.64 250.96,211.25 252.22,211.87 253.48,212.49 254.74,213.10 256.00,213.71 257.26,214.32 258.52,214.90 259.78,215.47 261.04,216.02 262.30,216.54 263.56,217.04 264.82,217.51 266.08,217.95 267.34,218.37 268.60,218.75 269.86,219.11 271.12,219.44 272.38,219.74 273.64,220.01 274.90,220.27 276.16,220.50 277.42,220.70 278.68,220.89 279.94,221.06 281.20,221.22 282.46,221.35 283.72,221.48 284.98,221.59 286.24,221.69 287.50,221.78 288.76,221.86 290.02,221.93 291.28,221.99 292.54,222.05 293.80,222.10 295.06,222.14 296.32,222.18 297.58,222.22 298.84,222.25 300.10,222.28 301.36,222.30 302.62,222.33 303.88,222.35 305.14,222.36 306.40,222.38 307.66,222.39 308.92,222.40 310.18,222.42 311.44,222.42 312.70,222.43 313.96,222.44 315.22,222.45 316.48,222.45 317.74,222.46 319.00,222.46" fill="none" stroke="#111" stroke-width="1.25"/>
<line x1="218.00" y1="182.00" x2="218.00" y2="191.25" stroke="#111" stroke-width="1.0" />
<line x1="216.30" y1="182.00" x2="219.70" y2="182.00" stroke="#111" stroke-width="1.0" />
<line x1="216.30" y1="191.25" x2="219.70" y2="191.25" stroke="#111" stroke-width="1.0" />
<circle cx="218.00" cy="186.25" r="2.05" fill="#111"/>
<line x1="225.00" y1="178.25" x2="225.00" y2="184.25" stroke="#111" stroke-width="1.0" />
<line x1="223.30" y1="178.25" x2="226.70" y2="178.25" stroke="#111" stroke-width="1.0" />
<line x1="223.30" y1="184.25" x2="226.70" y2="184.25" stroke="#111" stroke-width="1.0" />
<circle cx="225.00" cy="181.25" r="2.05" fill="#111"/>
<line x1="232.25" y1="177.50" x2="232.25" y2="192.50" stroke="#111" stroke-width="1.0" />
<line x1="230.55" y1="177.50" x2="233.95" y2="177.50" stroke="#111" stroke-width="1.0" />
<line x1="230.55" y1="192.50" x2="233.95" y2="192.50" stroke="#111" stroke-width="1.0" />
<circle cx="232.25" cy="184.50" r="2.05" fill="#111"/>
<circle cx="239.50" cy="183.25" r="2.05" fill="#111"/>
<line x1="246.75" y1="178.00" x2="246.75" y2="184.50" stroke="#111" stroke-width="1.0" />
<line x1="245.05" y1="178.00" x2="248.45" y2="178.00" stroke="#111" stroke-width="1.0" />
<line x1="245.05" y1="184.50" x2="248.45" y2="184.50" stroke="#111" stroke-width="1.0" />
<circle cx="246.75" cy="181.25" r="2.05" fill="#111"/>
<circle cx="254.00" cy="182.00" r="2.05" fill="#111"/>
<line x1="261.25" y1="177.50" x2="261.25" y2="183.25" stroke="#111" stroke-width="1.0" />
<line x1="259.55" y1="177.50" x2="262.95" y2="177.50" stroke="#111" stroke-width="1.0" />
<line x1="259.55" y1="183.25" x2="262.95" y2="183.25" stroke="#111" stroke-width="1.0" />
<circle cx="261.25" cy="180.50" r="2.05" fill="#111"/>
<line x1="268.50" y1="173.25" x2="268.50" y2="179.25" stroke="#111" stroke-width="1.0" />
<line x1="266.80" y1="173.25" x2="270.20" y2="173.25" stroke="#111" stroke-width="1.0" />
<line x1="266.80" y1="179.25" x2="270.20" y2="179.25" stroke="#111" stroke-width="1.0" />
<circle cx="268.50" cy="176.25" r="2.05" fill="#111"/>
<line x1="275.75" y1="176.25" x2="275.75" y2="185.50" stroke="#111" stroke-width="1.0" />
<line x1="274.05" y1="176.25" x2="277.45" y2="176.25" stroke="#111" stroke-width="1.0" />
<line x1="274.05" y1="185.50" x2="277.45" y2="185.50" stroke="#111" stroke-width="1.0" />
<circle cx="275.75" cy="180.75" r="2.05" fill="#111"/>
<line x1="283.00" y1="180.75" x2="283.00" y2="185.75" stroke="#111" stroke-width="1.0" />
<line x1="281.30" y1="180.75" x2="284.70" y2="180.75" stroke="#111" stroke-width="1.0" />
<line x1="281.30" y1="185.75" x2="284.70" y2="185.75" stroke="#111" stroke-width="1.0" />
<circle cx="283.00" cy="183.25" r="2.05" fill="#111"/>
<line x1="290.25" y1="176.25" x2="290.25" y2="182.50" stroke="#111" stroke-width="1.0" />
<line x1="288.55" y1="176.25" x2="291.95" y2="176.25" stroke="#111" stroke-width="1.0" />
<line x1="288.55" y1="182.50" x2="291.95" y2="182.50" stroke="#111" stroke-width="1.0" />
<circle cx="290.25" cy="179.25" r="2.05" fill="#111"/>
<line x1="297.50" y1="178.75" x2="297.50" y2="190.00" stroke="#111" stroke-width="1.0" />
<line x1="295.80" y1="178.75" x2="299.20" y2="178.75" stroke="#111" stroke-width="1.0" />
<line x1="295.80" y1="190.00" x2="299.20" y2="190.00" stroke="#111" stroke-width="1.0" />
<circle cx="297.50" cy="184.50" r="2.05" fill="#111"/>
<line x1="304.50" y1="174.50" x2="304.50" y2="179.25" stroke="#111" stroke-width="1.0" />
<line x1="302.80" y1="174.50" x2="306.20" y2="174.50" stroke="#111" stroke-width="1.0" />
<line x1="302.80" y1="179.25" x2="306.20" y2="179.25" stroke="#111" stroke-width="1.0" />
<circle cx="304.50" cy="176.75" r="2.05" fill="#111"/>
<line x1="311.75" y1="177.00" x2="311.75" y2="182.50" stroke="#111" stroke-width="1.0" />
<line x1="310.05" y1="177.00" x2="313.45" y2="177.00" stroke="#111" stroke-width="1.0" />
<line x1="310.05" y1="182.50" x2="313.45" y2="182.50" stroke="#111" stroke-width="1.0" />
<circle cx="311.75" cy="180.00" r="2.05" fill="#111"/>
<line x1="319.25" y1="176.25" x2="319.25" y2="182.50" stroke="#111" stroke-width="1.0" />
<line x1="317.55" y1="176.25" x2="320.95" y2="176.25" stroke="#111" stroke-width="1.0" />
<line x1="317.55" y1="182.50" x2="320.95" y2="182.50" stroke="#111" stroke-width="1.0" />
<circle cx="319.25" cy="179.50" r="2.05" fill="#111"/>
<line x1="218.00" y1="198.75" x2="218.00" y2="215.75" stroke="#111" stroke-width="1.0" />
<line x1="216.30" y1="198.75" x2="219.70" y2="198.75" stroke="#111" stroke-width="1.0" />
<line x1="216.30" y1="215.75" x2="219.70" y2="215.75" stroke="#111" stroke-width="1.0" />
<rect x="216.05" y="205.05" width="3.90" height="3.90" fill="#111" />
<line x1="225.00" y1="192.50" x2="225.00" y2="201.25" stroke="#111" stroke-width="1.0" />
<line x1="223.30" y1="192.50" x2="226.70" y2="192.50" stroke="#111" stroke-width="1.0" />
<line x1="223.30" y1="201.25" x2="226.70" y2="201.25" stroke="#111" stroke-width="1.0" />
<rect x="223.05" y="196.05" width="3.90" height="3.90" fill="#111" />
<line x1="232.25" y1="191.25" x2="232.25" y2="203.00" stroke="#111" stroke-width="1.0" />
<line x1="230.55" y1="191.25" x2="233.95" y2="191.25" stroke="#111" stroke-width="1.0" />
<line x1="230.55" y1="203.00" x2="233.95" y2="203.00" stroke="#111" stroke-width="1.0" />
<rect x="230.30" y="195.55" width="3.90" height="3.90" fill="#111" />
<line x1="239.50" y1="208.25" x2="239.50" y2="216.25" stroke="#111" stroke-width="1.0" />
<line x1="237.80" y1="208.25" x2="241.20" y2="208.25" stroke="#111" stroke-width="1.0" />
<line x1="237.80" y1="216.25" x2="241.20" y2="216.25" stroke="#111" stroke-width="1.0" />
<rect x="237.55" y="210.05" width="3.90" height="3.90" fill="#111" />
<rect x="244.80" y="208.55" width="3.90" height="3.90" fill="#111" />
<rect x="252.05" y="210.55" width="3.90" height="3.90" fill="#111" />
<line x1="261.25" y1="205.75" x2="261.25" y2="223.75" stroke="#111" stroke-width="1.0" />
<line x1="259.55" y1="205.75" x2="262.95" y2="205.75" stroke="#111" stroke-width="1.0" />
<line x1="259.55" y1="223.75" x2="262.95" y2="223.75" stroke="#111" stroke-width="1.0" />
<rect x="259.30" y="213.05" width="3.90" height="3.90" fill="#111" />
<line x1="268.50" y1="213.75" x2="268.50" y2="222.00" stroke="#111" stroke-width="1.0" />
<line x1="266.80" y1="213.75" x2="270.20" y2="213.75" stroke="#111" stroke-width="1.0" />
<line x1="266.80" y1="222.00" x2="270.20" y2="222.00" stroke="#111" stroke-width="1.0" />
<rect x="266.55" y="216.05" width="3.90" height="3.90" fill="#111" />
<line x1="275.75" y1="210.50" x2="275.75" y2="222.50" stroke="#111" stroke-width="1.0" />
<line x1="274.05" y1="210.50" x2="277.45" y2="210.50" stroke="#111" stroke-width="1.0" />
<line x1="274.05" y1="222.50" x2="277.45" y2="222.50" stroke="#111" stroke-width="1.0" />
<rect x="273.80" y="215.05" width="3.90" height="3.90" fill="#111" />
<line x1="283.00" y1="208.75" x2="283.00" y2="228.25" stroke="#111" stroke-width="1.0" />
<line x1="281.30" y1="208.75" x2="284.70" y2="208.75" stroke="#111" stroke-width="1.0" />
<line x1="281.30" y1="228.25" x2="284.70" y2="228.25" stroke="#111" stroke-width="1.0" />
<rect x="281.05" y="217.55" width="3.90" height="3.90" fill="#111" />
<line x1="290.25" y1="220.00" x2="290.25" y2="231.75" stroke="#111" stroke-width="1.0" />
<line x1="288.55" y1="220.00" x2="291.95" y2="220.00" stroke="#111" stroke-width="1.0" />
<line x1="288.55" y1="231.75" x2="291.95" y2="231.75" stroke="#111" stroke-width="1.0" />
<rect x="288.30" y="223.55" width="3.90" height="3.90" fill="#111" />
<line x1="297.50" y1="220.00" x2="297.50" y2="227.50" stroke="#111" stroke-width="1.0" />
<line x1="295.80" y1="220.00" x2="299.20" y2="220.00" stroke="#111" stroke-width="1.0" />
<line x1="295.80" y1="227.50" x2="299.20" y2="227.50" stroke="#111" stroke-width="1.0" />
<rect x="295.55" y="221.80" width="3.90" height="3.90" fill="#111" />
<line x1="304.50" y1="216.25" x2="304.50" y2="223.75" stroke="#111" stroke-width="1.0" />
<line x1="302.80" y1="216.25" x2="306.20" y2="216.25" stroke="#111" stroke-width="1.0" />
<line x1="302.80" y1="223.75" x2="306.20" y2="223.75" stroke="#111" stroke-width="1.0" />
<rect x="302.55" y="218.05" width="3.90" height="3.90" fill="#111" />
<line x1="311.75" y1="213.00" x2="311.75" y2="227.50" stroke="#111" stroke-width="1.0" />
<line x1="310.05" y1="213.00" x2="313.45" y2="213.00" stroke="#111" stroke-width="1.0" />
<line x1="310.05" y1="227.50" x2="313.45" y2="227.50" stroke="#111" stroke-width="1.0" />
<rect x="309.80" y="218.05" width="3.90" height="3.90" fill="#111" />
<line x1="319.25" y1="227.00" x2="319.25" y2="236.25" stroke="#111" stroke-width="1.0" />
<line x1="317.55" y1="227.00" x2="320.95" y2="227.00" stroke="#111" stroke-width="1.0" />
<line x1="317.55" y1="236.25" x2="320.95" y2="236.25" stroke="#111" stroke-width="1.0" />
<rect x="317.30" y="229.80" width="3.90" height="3.90" fill="#111" />
<line x1="202.40" y1="236.75" x2="211.60" y2="236.75" stroke="#111" stroke-width="1.1" />
<circle cx="207.00" cy="236.75" r="2.05" fill="#111"/>
<text x="215.75" y="239.15" font-size="6.8"  text-anchor="start" fill="#000" textLength="21.00" lengthAdjust="spacingAndGlyphs" stroke="#000" stroke-width="0.12">RAD140</text>
<line x1="202.40" y1="247.50" x2="211.60" y2="247.50" stroke="#111" stroke-width="1.1" />
<rect x="205.00" y="245.50" width="4.00" height="4.00" fill="#111" />
<text x="215.75" y="249.90" font-size="6.8"  text-anchor="start" fill="#000" textLength="40.50" lengthAdjust="spacingAndGlyphs" stroke="#000" stroke-width="0.12">Dexamethasone</text>
<line x1="25.00" y1="310.70" x2="25.00" y2="414.20" stroke="#333" stroke-width="0.9" />
<line x1="23.50" y1="414.20" x2="121.50" y2="414.20" stroke="#333" stroke-width="0.9" />
<line x1="23.00" y1="414.20" x2="25.00" y2="414.20" stroke="#333" stroke-width="0.7" />
<text x="22.20" y="416.20" font-size="5.4"  text-anchor="end" fill="#333" >0</text>
<line x1="23.00" y1="402.70" x2="25.00" y2="402.70" stroke="#333" stroke-width="0.7" />
<text x="22.20" y="404.70" font-size="5.4"  text-anchor="end" fill="#333" >0.5</text>
<line x1="23.00" y1="391.20" x2="25.00" y2="391.20" stroke="#333" stroke-width="0.7" />
<text x="22.20" y="393.20" font-size="5.4"  text-anchor="end" fill="#333" >1</text>
<line x1="23.00" y1="379.70" x2="25.00" y2="379.70" stroke="#333" stroke-width="0.7" />
<text x="22.20" y="381.70" font-size="5.4"  text-anchor="end" fill="#333" >1.5</text>
<line x1="23.00" y1="368.20" x2="25.00" y2="368.20" stroke="#333" stroke-width="0.7" />
<text x="22.20" y="370.20" font-size="5.4"  text-anchor="end" fill="#333" >2</text>
<line x1="23.00" y1="356.70" x2="25.00" y2="356.70" stroke="#333" stroke-width="0.7" />
<text x="22.20" y="358.70" font-size="5.4"  text-anchor="end" fill="#333" >2.5</text>
<line x1="23.00" y1="345.20" x2="25.00" y2="345.20" stroke="#333" stroke-width="0.7" />
<text x="22.20" y="347.20" font-size="5.4"  text-anchor="end" fill="#333" >3</text>
<line x1="23.00" y1="333.70" x2="25.00" y2="333.70" stroke="#333" stroke-width="0.7" />
<text x="22.20" y="335.70" font-size="5.4"  text-anchor="end" fill="#333" >3.5</text>
<line x1="23.00" y1="322.20" x2="25.00" y2="322.20" stroke="#333" stroke-width="0.7" />
<text x="22.20" y="324.20" font-size="5.4"  text-anchor="end" fill="#333" >4</text>
<line x1="23.00" y1="310.70" x2="25.00" y2="310.70" stroke="#333" stroke-width="0.7" />
<text x="22.20" y="312.70" font-size="5.4"  text-anchor="end" fill="#333" >4.5</text>
<line x1="25.00" y1="414.20" x2="25.00" y2="416.20" stroke="#333" stroke-width="0.7" />
<line x1="44.50" y1="414.20" x2="44.50" y2="416.20" stroke="#333" stroke-width="0.7" />
<line x1="64.25" y1="414.20" x2="64.25" y2="416.20" stroke="#333" stroke-width="0.7" />
<line x1="83.25" y1="414.20" x2="83.25" y2="416.20" stroke="#333" stroke-width="0.7" />
<line x1="102.50" y1="414.20" x2="102.50" y2="416.20" stroke="#333" stroke-width="0.7" />
<line x1="121.25" y1="414.20" x2="121.25" y2="416.20" stroke="#333" stroke-width="0.7" />
<line x1="30.38" y1="391.25" x2="30.38" y2="388.75" stroke="#999" stroke-width="0.7" />
<line x1="37.50" y1="391.25" x2="37.50" y2="388.25" stroke="#999" stroke-width="0.7" />
<rect x="27.30" y="391.25" width="6.15" height="22.95" fill="#fff" stroke="#888" stroke-width="0.6" />
<rect x="34.25" y="391.25" width="6.50" height="22.95" fill="#000" />
<text x="34.25" y="423.00" font-size="5.7"  text-anchor="middle" fill="#222" >0</text>
<line x1="50.62" y1="384.25" x2="50.62" y2="377.75" stroke="#999" stroke-width="0.7" />
<line x1="57.50" y1="380.50" x2="57.50" y2="375.50" stroke="#999" stroke-width="0.7" />
<rect x="47.80" y="384.25" width="5.65" height="29.95" fill="#fff" stroke="#888" stroke-width="0.6" />
<rect x="54.25" y="380.50" width="6.50" height="33.70" fill="#000" />
<text x="53.75" y="423.00" font-size="5.7"  text-anchor="middle" fill="#222" >0.1</text>
<line x1="70.12" y1="371.25" x2="70.12" y2="367.25" stroke="#999" stroke-width="0.7" />
<line x1="77.12" y1="348.25" x2="77.12" y2="341.25" stroke="#999" stroke-width="0.7" />
<rect x="67.30" y="371.25" width="5.65" height="42.95" fill="#fff" stroke="#888" stroke-width="0.6" />
<rect x="73.75" y="348.25" width="6.75" height="65.95" fill="#000" />
<text x="73.25" y="423.00" font-size="5.7"  text-anchor="middle" fill="#222" >1</text>
<line x1="89.38" y1="353.00" x2="89.38" y2="349.00" stroke="#999" stroke-width="0.7" />
<line x1="96.50" y1="328.00" x2="96.50" y2="320.00" stroke="#999" stroke-width="0.7" />
<rect x="86.55" y="353.00" width="5.65" height="61.20" fill="#fff" stroke="#888" stroke-width="0.6" />
<rect x="93.00" y="328.00" width="7.00" height="86.20" fill="#000" />
<text x="92.50" y="423.00" font-size="5.7"  text-anchor="middle" fill="#222" >10</text>
<line x1="108.75" y1="347.50" x2="108.75" y2="343.50" stroke="#999" stroke-width="0.7" />
<line x1="115.88" y1="324.25" x2="115.88" y2="316.25" stroke="#999" stroke-width="0.7" />
<rect x="105.80" y="347.50" width="5.90" height="66.70" fill="#fff" stroke="#888" stroke-width="0.6" />
<rect x="112.50" y="324.25" width="6.75" height="89.95" fill="#000" />
<text x="112.50" y="423.00" font-size="5.7"  text-anchor="middle" fill="#222" >100</text>
<text x="70.20" y="304.20" font-size="9.7" font-weight="bold" text-anchor="middle" fill="#111" stroke="#111" stroke-width="0.4" stroke-linejoin="round" >ZR-75-1</text>
<text x="5.70" y="363.00" font-size="7" font-weight="bold" text-anchor="middle" fill="#111" textLength="88.00" lengthAdjust="spacingAndGlyphs" stroke="#111" stroke-width="0.4" stroke-linejoin="round" transform="rotate(-90 5.70 363.00)" >Relative luciferase activity</text>
<text x="72.00" y="432.00" font-size="7.4" font-weight="bold" text-anchor="middle" fill="#111" textLength="77.50" lengthAdjust="spacingAndGlyphs" stroke="#111" stroke-width="0.4" stroke-linejoin="round" >Concentration (nmol/L)</text>
<rect x="34.50" y="316.80" width="3.40" height="3.40" fill="#fff" stroke="#888" stroke-width="0.6" />
<rect x="34.20" y="325.80" width="3.90" height="3.80" fill="#000" />
<text x="39.70" y="321.30" font-size="7.3"  text-anchor="start" fill="#222" textLength="28.50" lengthAdjust="spacingAndGlyphs" >RAD140</text>
<text x="39.70" y="330.20" font-size="7.3"  text-anchor="start" fill="#222" textLength="15.25" lengthAdjust="spacingAndGlyphs" >DHT</text>
<line x1="152.50" y1="310.00" x2="152.50" y2="414.00" stroke="#333" stroke-width="0.9" />
<line x1="151.00" y1="414.00" x2="237.50" y2="414.00" stroke="#333" stroke-width="0.9" />
<line x1="150.50" y1="414.00" x2="152.50" y2="414.00" stroke="#333" stroke-width="0.7" />
<text x="149.70" y="416.00" font-size="5.4"  text-anchor="end" fill="#333" >0.0</text>
<line x1="150.50" y1="401.00" x2="152.50" y2="401.00" stroke="#333" stroke-width="0.7" />
<text x="149.70" y="403.00" font-size="5.4"  text-anchor="end" fill="#333" >2.0</text>
<line x1="150.50" y1="388.00" x2="152.50" y2="388.00" stroke="#333" stroke-width="0.7" />
<text x="149.70" y="390.00" font-size="5.4"  text-anchor="end" fill="#333" >4.0</text>
<line x1="150.50" y1="375.00" x2="152.50" y2="375.00" stroke="#333" stroke-width="0.7" />
<text x="149.70" y="377.00" font-size="5.4"  text-anchor="end" fill="#333" >6.0</text>
<line x1="150.50" y1="362.00" x2="152.50" y2="362.00" stroke="#333" stroke-width="0.7" />
<text x="149.70" y="364.00" font-size="5.4"  text-anchor="end" fill="#333" >8.0</text>
<line x1="150.50" y1="349.00" x2="152.50" y2="349.00" stroke="#333" stroke-width="0.7" />
<text x="149.70" y="351.00" font-size="5.4"  text-anchor="end" fill="#333" >10.0</text>
<line x1="150.50" y1="336.00" x2="152.50" y2="336.00" stroke="#333" stroke-width="0.7" />
<text x="149.70" y="338.00" font-size="5.4"  text-anchor="end" fill="#333" >12.0</text>
<line x1="150.50" y1="323.00" x2="152.50" y2="323.00" stroke="#333" stroke-width="0.7" />
<text x="149.70" y="325.00" font-size="5.4"  text-anchor="end" fill="#333" >14.0</text>
<line x1="150.50" y1="310.00" x2="152.50" y2="310.00" stroke="#333" stroke-width="0.7" />
<text x="149.70" y="312.00" font-size="5.4"  text-anchor="end" fill="#333" >16.0</text>
<line x1="153.00" y1="414.00" x2="153.00" y2="416.00" stroke="#333" stroke-width="0.7" />
<line x1="174.25" y1="414.00" x2="174.25" y2="416.00" stroke="#333" stroke-width="0.7" />
<line x1="195.00" y1="414.00" x2="195.00" y2="416.00" stroke="#333" stroke-width="0.7" />
<line x1="216.00" y1="414.00" x2="216.00" y2="416.00" stroke="#333" stroke-width="0.7" />
<line x1="237.00" y1="414.00" x2="237.00" y2="416.00" stroke="#333" stroke-width="0.7" />
<line x1="160.25" y1="407.00" x2="160.25" y2="404.00" stroke="#999" stroke-width="0.7" />
<line x1="167.62" y1="407.50" x2="167.62" y2="406.00" stroke="#999" stroke-width="0.7" />
<rect x="157.05" y="407.00" width="6.40" height="7.00" fill="#fff" stroke="#888" stroke-width="0.6" />
<rect x="164.25" y="407.50" width="6.75" height="6.50" fill="#000" />
<text x="164.00" y="422.80" font-size="5.7"  text-anchor="middle" fill="#222" >0</text>
<line x1="181.00" y1="410.25" x2="181.00" y2="408.75" stroke="#999" stroke-width="0.7" />
<line x1="188.50" y1="405.25" x2="188.50" y2="401.25" stroke="#999" stroke-width="0.7" />
<rect x="177.80" y="410.25" width="6.40" height="3.75" fill="#fff" stroke="#888" stroke-width="0.6" />
<rect x="185.00" y="405.25" width="7.00" height="8.75" fill="#000" />
<text x="184.50" y="422.80" font-size="5.7"  text-anchor="middle" fill="#222" >0.1</text>
<line x1="201.75" y1="409.25" x2="201.75" y2="408.25" stroke="#999" stroke-width="0.7" />
<line x1="209.38" y1="343.75" x2="209.38" y2="329.75" stroke="#999" stroke-width="0.7" />
<rect x="198.55" y="409.25" width="6.40" height="4.75" fill="#fff" stroke="#888" stroke-width="0.6" />
<rect x="205.75" y="343.75" width="7.25" height="70.25" fill="#000" />
<text x="205.50" y="422.80" font-size="5.7"  text-anchor="middle" fill="#222" >1</text>
<line x1="222.75" y1="409.50" x2="222.75" y2="408.30" stroke="#999" stroke-width="0.7" />
<line x1="230.00" y1="332.50" x2="230.00" y2="320.00" stroke="#999" stroke-width="0.7" />
<rect x="219.55" y="409.50" width="6.40" height="4.50" fill="#fff" stroke="#888" stroke-width="0.6" />
<rect x="226.25" y="332.50" width="7.50" height="81.50" fill="#000" />
<text x="226.75" y="422.80" font-size="5.7"  text-anchor="middle" fill="#222" >10</text>
<text x="192.20" y="303.60" font-size="10.1" font-weight="bold" text-anchor="middle" fill="#111" stroke="#111" stroke-width="0.4" stroke-linejoin="round" >LNCaP</text>
<text x="134.00" y="363.00" font-size="7" font-weight="bold" text-anchor="middle" fill="#111" textLength="88.00" lengthAdjust="spacingAndGlyphs" stroke="#111" stroke-width="0.4" stroke-linejoin="round" transform="rotate(-90 134.00 363.00)" >Relative luciferase activity</text>
<text x="195.50" y="432.00" font-size="7.4" font-weight="bold" text-anchor="middle" fill="#111" textLength="77.50" lengthAdjust="spacingAndGlyphs" stroke="#111" stroke-width="0.4" stroke-linejoin="round" >Concentration (nmol/L)</text>
<rect x="160.90" y="316.80" width="3.40" height="3.40" fill="#fff" stroke="#888" stroke-width="0.6" />
<rect x="160.60" y="325.80" width="3.90" height="3.80" fill="#000" />
<text x="166.10" y="321.30" font-size="7.3"  text-anchor="start" fill="#222" textLength="29.00" lengthAdjust="spacingAndGlyphs" >RAD140</text>
<text x="166.10" y="330.20" font-size="7.3"  text-anchor="start" fill="#222" textLength="15.52" lengthAdjust="spacingAndGlyphs" >DHT</text>
<line x1="286.25" y1="308.25" x2="286.25" y2="415.00" stroke="#333" stroke-width="0.9" />
<line x1="284.75" y1="415.00" x2="455.50" y2="415.00" stroke="#333" stroke-width="0.9" />
<line x1="284.25" y1="415.00" x2="286.25" y2="415.00" stroke="#333" stroke-width="0.7" />
<text x="283.25" y="417.00" font-size="5.4"  text-anchor="end" fill="#333" >0</text>
<line x1="284.25" y1="393.67" x2="286.25" y2="393.67" stroke="#333" stroke-width="0.7" />
<text x="283.25" y="395.67" font-size="5.4"  text-anchor="end" fill="#333" >0.5</text>
<line x1="284.25" y1="372.34" x2="286.25" y2="372.34" stroke="#333" stroke-width="0.7" />
<text x="283.25" y="374.34" font-size="5.4"  text-anchor="end" fill="#333" >1</text>
<line x1="284.25" y1="351.01" x2="286.25" y2="351.01" stroke="#333" stroke-width="0.7" />
<text x="283.25" y="353.01" font-size="5.4"  text-anchor="end" fill="#333" >1.5</text>
<line x1="284.25" y1="329.68" x2="286.25" y2="329.68" stroke="#333" stroke-width="0.7" />
<text x="283.25" y="331.68" font-size="5.4"  text-anchor="end" fill="#333" >2</text>
<line x1="284.25" y1="308.35" x2="286.25" y2="308.35" stroke="#333" stroke-width="0.7" />
<text x="283.25" y="310.35" font-size="5.4"  text-anchor="end" fill="#333" >2.5</text>
<line x1="288.30" y1="415.00" x2="288.30" y2="416.80" stroke="#333" stroke-width="0.6" />
<line x1="305.00" y1="415.00" x2="305.00" y2="416.80" stroke="#333" stroke-width="0.6" />
<line x1="321.70" y1="415.00" x2="321.70" y2="416.80" stroke="#333" stroke-width="0.6" />
<line x1="338.40" y1="415.00" x2="338.40" y2="416.80" stroke="#333" stroke-width="0.6" />
<line x1="355.10" y1="415.00" x2="355.10" y2="416.80" stroke="#333" stroke-width="0.6" />
<line x1="371.80" y1="415.00" x2="371.80" y2="416.80" stroke="#333" stroke-width="0.6" />
<line x1="388.50" y1="415.00" x2="388.50" y2="416.80" stroke="#333" stroke-width="0.6" />
<line x1="405.20" y1="415.00" x2="405.20" y2="416.80" stroke="#333" stroke-width="0.6" />
<line x1="421.90" y1="415.00" x2="421.90" y2="416.80" stroke="#333" stroke-width="0.6" />
<line x1="438.60" y1="415.00" x2="438.60" y2="416.80" stroke="#333" stroke-width="0.6" />
<line x1="455.30" y1="415.00" x2="455.30" y2="416.80" stroke="#333" stroke-width="0.6" />
<line x1="294.00" y1="345.75" x2="294.00" y2="324.50" stroke="#555" stroke-width="0.9" />
<rect x="290.00" y="345.75" width="8.00" height="69.25" fill="#000" />
<text x="293.75" y="424.00" font-size="5.8"  text-anchor="middle" fill="#111" >DMSO</text>
<line x1="310.88" y1="355.75" x2="310.88" y2="341.25" stroke="#555" stroke-width="0.9" />
<rect x="306.75" y="355.75" width="8.25" height="59.25" fill="#000" />
<text x="310.75" y="424.00" font-size="5.8"  text-anchor="middle" fill="#111" >0.1</text>
<line x1="327.50" y1="377.50" x2="327.50" y2="367.00" stroke="#555" stroke-width="0.9" />
<rect x="323.25" y="377.50" width="8.50" height="37.50" fill="#000" />
<text x="328.00" y="424.00" font-size="5.8"  text-anchor="middle" fill="#111" >1</text>
<line x1="344.38" y1="399.50" x2="344.38" y2="392.00" stroke="#555" stroke-width="0.9" />
<rect x="340.00" y="399.50" width="8.75" height="15.50" fill="#000" />
<text x="344.38" y="390.60" font-size="8.5" font-weight="bold" text-anchor="middle" fill="#111" stroke="#111" stroke-width="0.4" stroke-linejoin="round" >*</text>
<text x="344.50" y="424.00" font-size="5.8"  text-anchor="middle" fill="#111" >10</text>
<line x1="361.25" y1="403.75" x2="361.25" y2="400.75" stroke="#555" stroke-width="0.9" />
<rect x="357.00" y="403.75" width="8.50" height="11.25" fill="#000" />
<text x="361.25" y="399.60" font-size="8.5" font-weight="bold" text-anchor="middle" fill="#111" stroke="#111" stroke-width="0.4" stroke-linejoin="round" >*</text>
<text x="361.25" y="424.00" font-size="5.8"  text-anchor="middle" fill="#111" >100</text>
<line x1="378.75" y1="403.25" x2="378.75" y2="400.25" stroke="#555" stroke-width="0.9" />
<rect x="374.50" y="403.25" width="8.50" height="11.75" fill="#000" />
<text x="378.75" y="399.35" font-size="8.5" font-weight="bold" text-anchor="middle" fill="#111" stroke="#111" stroke-width="0.4" stroke-linejoin="round" >*</text>
<text x="378.75" y="424.00" font-size="5.8"  text-anchor="middle" fill="#111" >1000</text>
<line x1="396.00" y1="358.75" x2="396.00" y2="341.25" stroke="#555" stroke-width="0.9" />
<rect x="392.00" y="358.75" width="8.00" height="56.25" fill="#000" />
<text x="395.50" y="424.00" font-size="5.8"  text-anchor="middle" fill="#111" >0.01</text>
<line x1="412.88" y1="401.00" x2="412.88" y2="397.00" stroke="#555" stroke-width="0.9" />
<rect x="408.75" y="401.00" width="8.25" height="14.00" fill="#000" />
<text x="412.88" y="396.60" font-size="8.5" font-weight="bold" text-anchor="middle" fill="#111" stroke="#111" stroke-width="0.4" stroke-linejoin="round" >*</text>
<text x="413.00" y="424.00" font-size="5.8"  text-anchor="middle" fill="#111" >0.1</text>
<line x1="430.00" y1="405.25" x2="430.00" y2="402.75" stroke="#555" stroke-width="0.9" />
<rect x="425.75" y="405.25" width="8.50" height="9.75" fill="#000" />
<text x="430.00" y="401.60" font-size="8.5" font-weight="bold" text-anchor="middle" fill="#111" stroke="#111" stroke-width="0.4" stroke-linejoin="round" >*</text>
<text x="429.50" y="424.00" font-size="5.8"  text-anchor="middle" fill="#111" >1</text>
<line x1="446.88" y1="402.50" x2="446.88" y2="395.75" stroke="#555" stroke-width="0.9" />
<rect x="442.50" y="402.50" width="8.75" height="12.50" fill="#000" />
<text x="446.88" y="394.35" font-size="8.5" font-weight="bold" text-anchor="middle" fill="#111" stroke="#111" stroke-width="0.4" stroke-linejoin="round" >*</text>
<text x="447.00" y="424.00" font-size="5.8"  text-anchor="middle" fill="#111" >10</text>
<text x="457.00" y="424.00" font-size="6"  text-anchor="start" fill="#111" textLength="19.30" lengthAdjust="spacingAndGlyphs" >nmol/L</text>
<line x1="305.00" y1="426.20" x2="385.50" y2="426.20" stroke="#333" stroke-width="0.7" />
<line x1="389.50" y1="426.20" x2="452.50" y2="426.20" stroke="#333" stroke-width="0.7" />
<text x="344.25" y="434.90" font-size="6.4"  text-anchor="middle" fill="#222" >RAD140</text>
<text x="413.30" y="434.90" font-size="6.4"  text-anchor="middle" fill="#222" >DHT</text>
<text x="361.90" y="300.00" font-size="9.8" font-weight="bold" text-anchor="middle" fill="#111" stroke="#111" stroke-width="0.4" stroke-linejoin="round" >HCC1428 LTED</text>
<text x="269.50" y="363.75" font-size="7.2" font-weight="bold" text-anchor="middle" fill="#111" textLength="67.50" lengthAdjust="spacingAndGlyphs" stroke="#111" stroke-width="0.4" stroke-linejoin="round" transform="rotate(-90 269.50 363.75)" >Live cell count (×10<tspan font-size="4.5" dy="-2.4">5</tspan><tspan dy="2.4">)</tspan></text>
<text x="388.40" y="12.90" font-size="6.55" font-weight="bold" text-anchor="end" fill="#111" stroke="#111" stroke-width="0.4" stroke-linejoin="round" >RAD140</text>
<line x1="395.90" y1="9.40" x2="397.90" y2="9.40" stroke="#111" stroke-width="1.1" />
<line x1="408.40" y1="9.40" x2="410.40" y2="9.40" stroke="#111" stroke-width="1.1" />
<line x1="420.20" y1="9.40" x2="423.60" y2="9.40" stroke="#111" stroke-width="1.2" />
<line x1="421.90" y1="7.70" x2="421.90" y2="11.10" stroke="#111" stroke-width="1.2" />
<line x1="433.20" y1="9.40" x2="435.20" y2="9.40" stroke="#111" stroke-width="1.1" />
<line x1="445.50" y1="9.40" x2="447.50" y2="9.40" stroke="#111" stroke-width="1.1" />
<line x1="457.30" y1="9.40" x2="460.70" y2="9.40" stroke="#111" stroke-width="1.2" />
<line x1="459.00" y1="7.70" x2="459.00" y2="11.10" stroke="#111" stroke-width="1.2" />
<line x1="470.50" y1="9.40" x2="472.50" y2="9.40" stroke="#111" stroke-width="1.1" />
<text x="388.40" y="24.15" font-size="6.55" font-weight="bold" text-anchor="end" fill="#111" stroke="#111" stroke-width="0.4" stroke-linejoin="round" >DHT</text>
<line x1="395.90" y1="20.65" x2="397.90" y2="20.65" stroke="#111" stroke-width="1.1" />
<line x1="408.40" y1="20.65" x2="410.40" y2="20.65" stroke="#111" stroke-width="1.1" />
<line x1="420.90" y1="20.65" x2="422.90" y2="20.65" stroke="#111" stroke-width="1.1" />
<line x1="432.50" y1="20.65" x2="435.90" y2="20.65" stroke="#111" stroke-width="1.2" />
<line x1="434.20" y1="18.95" x2="434.20" y2="22.35" stroke="#111" stroke-width="1.2" />
<line x1="445.50" y1="20.65" x2="447.50" y2="20.65" stroke="#111" stroke-width="1.1" />
<line x1="458.00" y1="20.65" x2="460.00" y2="20.65" stroke="#111" stroke-width="1.1" />
<line x1="469.80" y1="20.65" x2="473.20" y2="20.65" stroke="#111" stroke-width="1.2" />
<line x1="471.50" y1="18.95" x2="471.50" y2="22.35" stroke="#111" stroke-width="1.2" />
<text x="388.40" y="35.15" font-size="6.55" font-weight="bold" text-anchor="end" fill="#111" stroke="#111" stroke-width="0.4" stroke-linejoin="round" >ARN-509</text>
<line x1="395.90" y1="31.65" x2="397.90" y2="31.65" stroke="#111" stroke-width="1.1" />
<line x1="408.40" y1="31.65" x2="410.40" y2="31.65" stroke="#111" stroke-width="1.1" />
<line x1="420.90" y1="31.65" x2="422.90" y2="31.65" stroke="#111" stroke-width="1.1" />
<line x1="433.20" y1="31.65" x2="435.20" y2="31.65" stroke="#111" stroke-width="1.1" />
<line x1="444.80" y1="31.65" x2="448.20" y2="31.65" stroke="#111" stroke-width="1.2" />
<line x1="446.50" y1="29.95" x2="446.50" y2="33.35" stroke="#111" stroke-width="1.2" />
<line x1="457.30" y1="31.65" x2="460.70" y2="31.65" stroke="#111" stroke-width="1.2" />
<line x1="459.00" y1="29.95" x2="459.00" y2="33.35" stroke="#111" stroke-width="1.2" />
<line x1="469.80" y1="31.65" x2="473.20" y2="31.65" stroke="#111" stroke-width="1.2" />
<line x1="471.50" y1="29.95" x2="471.50" y2="33.35" stroke="#111" stroke-width="1.2" />
<text x="388.40" y="45.90" font-size="6.55" font-weight="bold" text-anchor="end" fill="#111" stroke="#111" stroke-width="0.4" stroke-linejoin="round" >E2</text>
<line x1="395.90" y1="42.40" x2="397.90" y2="42.40" stroke="#111" stroke-width="1.1" />
<line x1="407.70" y1="42.40" x2="411.10" y2="42.40" stroke="#111" stroke-width="1.2" />
<line x1="409.40" y1="40.70" x2="409.40" y2="44.10" stroke="#111" stroke-width="1.2" />
<line x1="420.20" y1="42.40" x2="423.60" y2="42.40" stroke="#111" stroke-width="1.2" />
<line x1="421.90" y1="40.70" x2="421.90" y2="44.10" stroke="#111" stroke-width="1.2" />
<line x1="432.50" y1="42.40" x2="435.90" y2="42.40" stroke="#111" stroke-width="1.2" />
<line x1="434.20" y1="40.70" x2="434.20" y2="44.10" stroke="#111" stroke-width="1.2" />
<line x1="444.80" y1="42.40" x2="448.20" y2="42.40" stroke="#111" stroke-width="1.2" />
<line x1="446.50" y1="40.70" x2="446.50" y2="44.10" stroke="#111" stroke-width="1.2" />
<line x1="457.30" y1="42.40" x2="460.70" y2="42.40" stroke="#111" stroke-width="1.2" />
<line x1="459.00" y1="40.70" x2="459.00" y2="44.10" stroke="#111" stroke-width="1.2" />
<line x1="469.80" y1="42.40" x2="473.20" y2="42.40" stroke="#111" stroke-width="1.2" />
<line x1="471.50" y1="40.70" x2="471.50" y2="44.10" stroke="#111" stroke-width="1.2" />
<line x1="402.80" y1="5.80" x2="402.80" y2="47.00" stroke="#888" stroke-width="1" />
<defs><filter id="b" x="-20%" y="-100%" width="140%" height="300%"><feGaussianBlur stdDeviation="0.9 0.55"/></filter><filter id="b2" x="-20%" y="-100%" width="140%" height="300%"><feGaussianBlur stdDeviation="1.2 0.9"/></filter></defs>
<rect x="391.30" y="48.00" width="86.80" height="15.50" fill="#f6f6f6" stroke="#333" stroke-width="1.1" />
<rect x="393.80" y="49.00" width="9.00" height="13.50" fill="#000" opacity="0.035" filter="url(#b2)"/>
<rect x="393.30" y="55.70" width="10.00" height="2.20" fill="#000" opacity="0.1" filter="url(#b)"/>
<rect x="406.30" y="49.00" width="9.00" height="13.50" fill="#000" opacity="0.035" filter="url(#b2)"/>
<rect x="405.80" y="55.70" width="10.00" height="2.20" fill="#000" opacity="0.12" filter="url(#b)"/>
<rect x="418.80" y="49.00" width="9.00" height="13.50" fill="#000" opacity="0.035" filter="url(#b2)"/>
<rect x="418.30" y="55.40" width="10.00" height="2.20" fill="#000" opacity="0.8" filter="url(#b)"/>
<rect x="430.80" y="49.00" width="9.00" height="13.50" fill="#000" opacity="0.035" filter="url(#b2)"/>
<rect x="430.30" y="55.40" width="10.00" height="2.20" fill="#000" opacity="1.0" filter="url(#b)"/>
<rect x="442.70" y="49.00" width="9.00" height="13.50" fill="#000" opacity="0.035" filter="url(#b2)"/>
<rect x="442.20" y="56.10" width="10.00" height="2.20" fill="#000" opacity="0.12" filter="url(#b)"/>
<rect x="454.50" y="49.00" width="9.00" height="13.50" fill="#000" opacity="0.035" filter="url(#b2)"/>
<rect x="454.00" y="55.70" width="10.00" height="2.20" fill="#000" opacity="0.35" filter="url(#b)"/>
<rect x="466.70" y="49.00" width="9.00" height="13.50" fill="#000" opacity="0.035" filter="url(#b2)"/>
<rect x="466.20" y="54.50" width="10.00" height="2.20" fill="#000" opacity="0.3" filter="url(#b)"/>
<text x="388.40" y="57.80" font-size="7.8" font-weight="bold" text-anchor="end" fill="#111" stroke="#111" stroke-width="0.4" stroke-linejoin="round" >AR</text>
<rect x="391.30" y="66.60" width="86.80" height="14.90" fill="#f6f6f6" stroke="#333" stroke-width="1.1" />
<rect x="393.80" y="67.60" width="9.00" height="12.90" fill="#000" opacity="0.035" filter="url(#b2)"/>
<rect x="393.30" y="73.10" width="10.00" height="2.40" fill="#000" opacity="0.9" filter="url(#b)"/>
<rect x="406.30" y="67.60" width="9.00" height="12.90" fill="#000" opacity="0.035" filter="url(#b2)"/>
<rect x="405.80" y="73.60" width="10.00" height="2.40" fill="#000" opacity="0.9" filter="url(#b)"/>
<rect x="418.80" y="67.60" width="9.00" height="12.90" fill="#000" opacity="0.035" filter="url(#b2)"/>
<rect x="418.30" y="73.80" width="10.00" height="2.40" fill="#000" opacity="0.9" filter="url(#b)"/>
<rect x="430.80" y="67.60" width="9.00" height="12.90" fill="#000" opacity="0.035" filter="url(#b2)"/>
<rect x="430.30" y="74.00" width="10.00" height="2.40" fill="#000" opacity="0.9" filter="url(#b)"/>
<rect x="442.70" y="67.60" width="9.00" height="12.90" fill="#000" opacity="0.035" filter="url(#b2)"/>
<rect x="442.20" y="74.00" width="10.00" height="2.40" fill="#000" opacity="0.9" filter="url(#b)"/>
<rect x="454.50" y="67.60" width="9.00" height="12.90" fill="#000" opacity="0.035" filter="url(#b2)"/>
<rect x="454.00" y="73.80" width="10.00" height="2.40" fill="#000" opacity="0.9" filter="url(#b)"/>
<rect x="466.70" y="67.60" width="9.00" height="12.90" fill="#000" opacity="0.035" filter="url(#b2)"/>
<rect x="466.20" y="73.10" width="10.00" height="2.40" fill="#000" opacity="0.9" filter="url(#b)"/>
<text x="388.40" y="77.40" font-size="7.8" font-weight="bold" text-anchor="end" fill="#111" stroke="#111" stroke-width="0.4" stroke-linejoin="round" >HDAC2</text>
<rect x="391.30" y="84.30" width="86.80" height="15.40" fill="#f7f7f7" stroke="#333" stroke-width="1.1" />
<rect x="393.80" y="85.30" width="9.00" height="13.40" fill="#000" opacity="0.035" filter="url(#b2)"/>
<rect x="393.30" y="91.20" width="10.00" height="2.20" fill="#000" opacity="0.08" filter="url(#b)"/>
<rect x="406.30" y="85.30" width="9.00" height="13.40" fill="#000" opacity="0.035" filter="url(#b2)"/>
<rect x="405.80" y="91.70" width="10.00" height="2.20" fill="#000" opacity="0.1" filter="url(#b)"/>
<rect x="418.80" y="85.30" width="9.00" height="13.40" fill="#000" opacity="0.035" filter="url(#b2)"/>
<rect x="418.30" y="91.70" width="10.00" height="2.20" fill="#000" opacity="0.1" filter="url(#b)"/>
<rect x="430.80" y="85.30" width="9.00" height="13.40" fill="#000" opacity="0.035" filter="url(#b2)"/>
<rect x="430.30" y="91.90" width="10.00" height="2.20" fill="#000" opacity="0.13" filter="url(#b)"/>
<rect x="442.70" y="85.30" width="9.00" height="13.40" fill="#000" opacity="0.035" filter="url(#b2)"/>
<rect x="442.20" y="91.70" width="10.00" height="2.20" fill="#000" opacity="0.1" filter="url(#b)"/>
<rect x="454.50" y="85.30" width="9.00" height="13.40" fill="#000" opacity="0.035" filter="url(#b2)"/>
<rect x="454.00" y="91.50" width="10.00" height="2.20" fill="#000" opacity="0.08" filter="url(#b)"/>
<rect x="466.70" y="85.30" width="9.00" height="13.40" fill="#000" opacity="0.035" filter="url(#b2)"/>
<rect x="466.20" y="91.10" width="10.00" height="2.20" fill="#000" opacity="0.05" filter="url(#b)"/>
<text x="388.40" y="93.80" font-size="7.8" font-weight="bold" text-anchor="end" fill="#111" stroke="#111" stroke-width="0.4" stroke-linejoin="round" >β-Tubulin</text>
<rect x="391.30" y="103.20" width="86.80" height="15.30" fill="#dcdcdc" stroke="#333" stroke-width="1.1" />
<rect x="393.80" y="104.20" width="9.00" height="13.30" fill="#000" opacity="0.035" filter="url(#b2)"/>
<rect x="393.30" y="106.80" width="10.00" height="8.00" fill="#000" opacity="0.1" filter="url(#b2)"/>
<rect x="393.30" y="109.40" width="10.00" height="2.80" fill="#000" opacity="0.8" filter="url(#b)"/>
<rect x="406.30" y="104.20" width="9.00" height="13.30" fill="#000" opacity="0.035" filter="url(#b2)"/>
<rect x="405.80" y="106.80" width="10.00" height="8.00" fill="#000" opacity="0.1" filter="url(#b2)"/>
<rect x="405.80" y="109.40" width="10.00" height="2.80" fill="#000" opacity="0.75" filter="url(#b)"/>
<rect x="418.80" y="104.20" width="9.00" height="13.30" fill="#000" opacity="0.035" filter="url(#b2)"/>
<rect x="418.30" y="106.60" width="10.00" height="8.00" fill="#000" opacity="0.1" filter="url(#b2)"/>
<rect x="418.30" y="109.20" width="10.00" height="2.80" fill="#000" opacity="0.9" filter="url(#b)"/>
<rect x="430.80" y="104.20" width="9.00" height="13.30" fill="#000" opacity="0.035" filter="url(#b2)"/>
<rect x="430.30" y="106.60" width="10.00" height="8.00" fill="#000" opacity="0.1" filter="url(#b2)"/>
<rect x="430.30" y="109.20" width="10.00" height="2.80" fill="#000" opacity="0.95" filter="url(#b)"/>
<rect x="442.70" y="104.20" width="9.00" height="13.30" fill="#000" opacity="0.035" filter="url(#b2)"/>
<rect x="442.20" y="107.20" width="10.00" height="8.00" fill="#000" opacity="0.1" filter="url(#b2)"/>
<rect x="442.20" y="109.80" width="10.00" height="2.80" fill="#000" opacity="0.85" filter="url(#b)"/>
<rect x="454.50" y="104.20" width="9.00" height="13.30" fill="#000" opacity="0.035" filter="url(#b2)"/>
<rect x="454.00" y="107.00" width="10.00" height="8.00" fill="#000" opacity="0.1" filter="url(#b2)"/>
<rect x="454.00" y="109.60" width="10.00" height="2.80" fill="#000" opacity="0.75" filter="url(#b)"/>
<rect x="466.70" y="104.20" width="9.00" height="13.30" fill="#000" opacity="0.035" filter="url(#b2)"/>
<rect x="466.20" y="106.40" width="10.00" height="8.00" fill="#000" opacity="0.1" filter="url(#b2)"/>
<rect x="466.20" y="109.00" width="10.00" height="2.80" fill="#000" opacity="1.0" filter="url(#b)"/>
<text x="388.40" y="113.70" font-size="7.8" font-weight="bold" text-anchor="end" fill="#111" stroke="#111" stroke-width="0.4" stroke-linejoin="round" >AR</text>
<rect x="391.30" y="121.50" width="86.80" height="15.00" fill="#e0e0e0" stroke="#333" stroke-width="1.1" />
<rect x="393.80" y="122.50" width="9.00" height="13.00" fill="#000" opacity="0.035" filter="url(#b2)"/>
<rect x="393.30" y="126.50" width="10.00" height="8.00" fill="#000" opacity="0.06" filter="url(#b2)"/>
<rect x="393.30" y="129.25" width="10.00" height="2.50" fill="#000" opacity="0.9" filter="url(#b)"/>
<rect x="406.30" y="122.50" width="9.00" height="13.00" fill="#000" opacity="0.035" filter="url(#b2)"/>
<rect x="405.80" y="127.00" width="10.00" height="8.00" fill="#000" opacity="0.06" filter="url(#b2)"/>
<rect x="405.80" y="129.75" width="10.00" height="2.50" fill="#000" opacity="0.9" filter="url(#b)"/>
<rect x="418.80" y="122.50" width="9.00" height="13.00" fill="#000" opacity="0.035" filter="url(#b2)"/>
<rect x="418.30" y="127.20" width="10.00" height="8.00" fill="#000" opacity="0.06" filter="url(#b2)"/>
<rect x="418.30" y="129.95" width="10.00" height="2.50" fill="#000" opacity="0.9" filter="url(#b)"/>
<rect x="430.80" y="122.50" width="9.00" height="13.00" fill="#000" opacity="0.035" filter="url(#b2)"/>
<rect x="430.30" y="127.20" width="10.00" height="8.00" fill="#000" opacity="0.06" filter="url(#b2)"/>
<rect x="430.30" y="129.95" width="10.00" height="2.50" fill="#000" opacity="0.95" filter="url(#b)"/>
<rect x="442.70" y="122.50" width="9.00" height="13.00" fill="#000" opacity="0.035" filter="url(#b2)"/>
<rect x="442.20" y="127.30" width="10.00" height="8.00" fill="#000" opacity="0.06" filter="url(#b2)"/>
<rect x="442.20" y="130.05" width="10.00" height="2.50" fill="#000" opacity="0.95" filter="url(#b)"/>
<rect x="454.50" y="122.50" width="9.00" height="13.00" fill="#000" opacity="0.035" filter="url(#b2)"/>
<rect x="454.00" y="127.20" width="10.00" height="8.00" fill="#000" opacity="0.06" filter="url(#b2)"/>
<rect x="454.00" y="129.95" width="10.00" height="2.50" fill="#000" opacity="0.9" filter="url(#b)"/>
<rect x="466.70" y="122.50" width="9.00" height="13.00" fill="#000" opacity="0.035" filter="url(#b2)"/>
<rect x="466.20" y="126.80" width="10.00" height="8.00" fill="#000" opacity="0.06" filter="url(#b2)"/>
<rect x="466.20" y="129.55" width="10.00" height="2.50" fill="#000" opacity="1.0" filter="url(#b)"/>
<text x="388.40" y="130.90" font-size="7.8" font-weight="bold" text-anchor="end" fill="#111" stroke="#111" stroke-width="0.4" stroke-linejoin="round" >β-Tubulin</text>
<line x1="480.00" y1="56.00" x2="483.30" y2="56.00" stroke="#333" stroke-width="0.8" />
<text x="485.00" y="57.80" font-size="5.2"  text-anchor="start" fill="#222" textLength="7.80" lengthAdjust="spacingAndGlyphs" >110</text>
<text x="485.00" y="63.80" font-size="5.2"  text-anchor="start" fill="#444" textLength="8.70" lengthAdjust="spacingAndGlyphs" >kDa</text>
<line x1="480.00" y1="110.80" x2="483.30" y2="110.80" stroke="#333" stroke-width="0.8" />
<text x="485.00" y="112.60" font-size="5.2"  text-anchor="start" fill="#222" textLength="7.80" lengthAdjust="spacingAndGlyphs" >110</text>
<text x="485.00" y="118.60" font-size="5.2"  text-anchor="start" fill="#444" textLength="8.70" lengthAdjust="spacingAndGlyphs" >kDa</text>
<polyline points="495.5,48 497.6,48 497.6,99.6 495.5,99.6" fill="none" stroke="#444" stroke-width="0.8"/>
<polyline points="495.5,103.3 497.6,103.3 497.6,137 495.5,137" fill="none" stroke="#444" stroke-width="0.8"/>
<text x="500.00" y="80.00" font-size="7.8" font-weight="bold" text-anchor="start" fill="#111" stroke="#111" stroke-width="0.4" stroke-linejoin="round" >NE</text>
<text x="499.60" y="123.00" font-size="7.8" font-weight="bold" text-anchor="start" fill="#111" stroke="#111" stroke-width="0.4" stroke-linejoin="round" >WCE</text>
</svg>
</body></html>
